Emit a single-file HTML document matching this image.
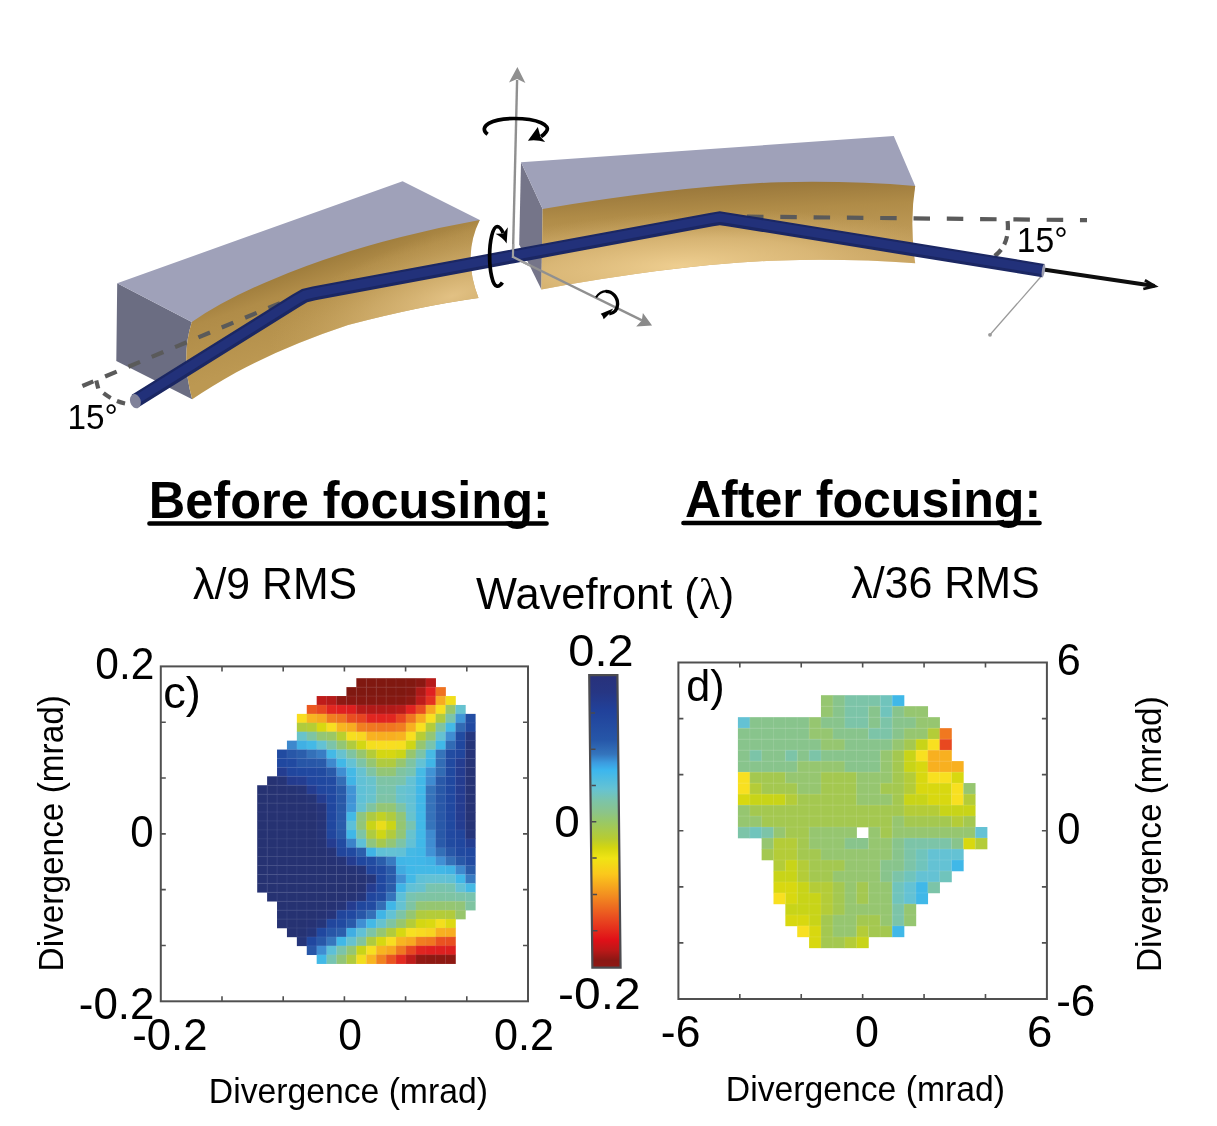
<!DOCTYPE html>
<html lang="en"><head><meta charset="utf-8"><title>Wavefront before and after focusing</title>
<style>
html,body{margin:0;padding:0;background:#fff;}
body{width:1217px;height:1126px;overflow:hidden;font-family:"Liberation Sans",Arial,sans-serif;}
svg{display:block;}
</style></head><body>
<svg width="1217" height="1126" viewBox="0 0 1217 1126">
<defs>
<linearGradient id="gold1" gradientUnits="userSpaceOnUse" x1="300" y1="264" x2="326" y2="340">
<stop offset="0" stop-color="#9c7a3a"/><stop offset="0.3" stop-color="#b08c48"/><stop offset="1" stop-color="#bc9852"/></linearGradient>
<radialGradient id="hl1" gradientUnits="userSpaceOnUse" cx="452" cy="296" r="190" gradientTransform="translate(452 296) rotate(-17) scale(1 0.34) translate(-452 -296)">
<stop offset="0" stop-color="#e2c184" stop-opacity="1"/><stop offset="0.45" stop-color="#d8b676" stop-opacity="0.6"/><stop offset="1" stop-color="#c8a460" stop-opacity="0"/></radialGradient>
<linearGradient id="gold2" gradientUnits="userSpaceOnUse" x1="720" y1="183" x2="724" y2="264">
<stop offset="0" stop-color="#98763a"/><stop offset="0.35" stop-color="#b08c48"/><stop offset="1" stop-color="#c8a462"/></linearGradient>
<radialGradient id="hl2" gradientUnits="userSpaceOnUse" cx="680" cy="266" r="270" gradientTransform="translate(680 266) rotate(-3) scale(1 0.2) translate(-680 -266)">
<stop offset="0" stop-color="#eece90" stop-opacity="1"/><stop offset="0.5" stop-color="#e2c080" stop-opacity="0.7"/><stop offset="1" stop-color="#d0ac68" stop-opacity="0"/></radialGradient>
<linearGradient id="cbar" x1="0" y1="0" x2="0" y2="1">
<stop offset="0" stop-color="#28317a"/>
<stop offset="0.06" stop-color="#263684"/>
<stop offset="0.12" stop-color="#21419a"/>
<stop offset="0.22" stop-color="#2656a8"/>
<stop offset="0.27" stop-color="#3474bc"/>
<stop offset="0.30" stop-color="#3c9ce0"/>
<stop offset="0.325" stop-color="#3cb6ee"/>
<stop offset="0.39" stop-color="#66c3d2"/>
<stop offset="0.43" stop-color="#7cc4a8"/>
<stop offset="0.47" stop-color="#8cc488"/>
<stop offset="0.50" stop-color="#98c868"/>
<stop offset="0.56" stop-color="#b8cc30"/>
<stop offset="0.59" stop-color="#d4d610"/>
<stop offset="0.626" stop-color="#f0e414"/>
<stop offset="0.68" stop-color="#fbc81c"/>
<stop offset="0.75" stop-color="#f39020"/>
<stop offset="0.83" stop-color="#e94c20"/>
<stop offset="0.905" stop-color="#e01018"/>
<stop offset="0.94" stop-color="#bc1818"/>
<stop offset="0.975" stop-color="#8a1814"/>
<stop offset="1" stop-color="#901814"/>
</linearGradient>
</defs>
<rect width="1217" height="1126" fill="#fff"/>
<g id="scene">
<path d="M117.2 283.2 L191.8 322 Q180.5 357 192.2 399.2 L116.3 361 Z" fill="#6b6d82"/>
<path d="M117.2 283.2 L402.6 181.2 L479.8 220 L470 236 L300 290 L195 330 L191.8 322 Z" fill="#9fa1b9"/>
<path d="M191.8 322 Q225 299 273.2 279.2 Q330 255 400 237.3 Q440 227 479.8 220 Q462 256 478.5 298 Q420 306 348 325 Q285 346 236 372.5 Q212 386 192.2 399.2 Q180.5 357 191.8 322 Z" fill="url(#gold1)"/>
<path d="M191.8 322 Q225 299 273.2 279.2 Q330 255 400 237.3 Q440 227 479.8 220 Q462 256 478.5 298 Q420 306 348 325 Q285 346 236 372.5 Q212 386 192.2 399.2 Q180.5 357 191.8 322 Z" fill="url(#hl1)"/>
<path d="M521 162.3 L542.6 209 L541.4 289.4 L519.2 244.5 Z" fill="#757589"/>
<path d="M521 162.3 L893.8 136 L915.2 186 L914 192 L779 190 L545 214 L542.6 209 Z" fill="#9fa1b9"/>
<path d="M542.6 209 Q680 186 779 182.2 Q850 180.5 915.2 186 Q909.5 222 915.2 263.2 Q850 258.5 779.5 260.4 Q680 264 541.4 289.4 Z" fill="url(#gold2)"/>
<path d="M542.6 209 Q680 186 779 182.2 Q850 180.5 915.2 186 Q909.5 222 915.2 263.2 Q850 258.5 779.5 260.4 Q680 264 541.4 289.4 Z" fill="url(#hl2)"/>
<g stroke="#5a5a5a" stroke-width="4.2" fill="none">
<path d="M280 303.1 L82.4 386" stroke-dasharray="12.6 12.7"/>
<path d="M96.2 380.5 L98.2 388.5" />
<path d="M103.5 393.2 Q115 402 128 404" stroke-dasharray="8.5 7"/>
<path d="M747 216.6 L1087 220.2" stroke-dasharray="16.5 16.8"/>
<path d="M1007.6 221 Q1010 245 994 256.5" stroke-dasharray="9 6"/>
</g>
<g stroke="#909090" stroke-width="2.4" fill="none"><path d="M512.9 257 L517.1 80"/><path d="M512.9 257 L642 320.4"/></g>
<path d="M517.4 67 L525.4 83 L517.1 79 L509 82.6 Z" fill="#909090"/>
<path d="M652.1 325.5 L636.2 326.6 L641.8 320.6 L642.9 312.9 Z" fill="#8a8a8a"/>
<path d="M1041.5 276 L990 334.8" stroke="#9a9a9a" stroke-width="1.3" fill="none"/><circle cx="990" cy="334.8" r="1.9" fill="#9a9a9a"/>
<path d="M139.26 406.82 L299.67 306.68 L307.27 302.32 L315.45 300.30 L514.27 263.13 L713.15 226.15 L719.83 225.23 L726.96 226.17 L1042.31 277.31 L1044.49 263.89 L729.04 212.63 L719.77 211.17 L710.85 212.65 L511.73 249.47 L312.55 286.50 L301.93 288.88 L292.33 294.52 L131.74 394.78 Z" fill="#1b2763"/>
<path d="M137.83 404.03 L298.27 303.87 L306.26 299.27 L314.90 297.18 L513.79 260.04 L712.71 223.09 L719.82 222.06 L727.35 223.10 L1042.72 274.26 L1044.08 265.94 L728.65 214.70 L719.78 213.34 L711.29 214.71 L512.21 251.56 L313.10 288.62 L302.94 290.93 L293.73 296.33 L133.17 396.57 Z" fill="#22317a"/>
<ellipse cx="135.4" cy="401.2" rx="5.3" ry="7.3" fill="#80829a" transform="rotate(-18 135.4 401.2)"/>
<ellipse cx="1043.4" cy="270.6" rx="1.5" ry="6.9" fill="#9a9cae" transform="rotate(9 1043.4 270.6)"/>
<g stroke="#a0a0a0" stroke-width="2.2" fill="none"><path d="M512.9 258 L513.2 244"/><path d="M512.2 256.6 L530 265.4"/></g>
<path d="M1045 269.7 L1154.6 285.95" stroke="#0e0e0e" stroke-width="4.1" fill="none"/>
<path d="M1144.9 280.2 L1155 286.1 L1143.3 289" stroke="#0e0e0e" stroke-width="2.8" stroke-linejoin="miter" stroke-miterlimit="6" fill="none"/>
<g stroke="#000" stroke-width="3.7" fill="none">
<path d="M487.6 134.3 C477.5 126.5 492 118.4 514 118.5 C538 118.6 551.5 125.2 546.2 131.6 C545 133.4 543.4 135 541 136.6"/>
<path d="M502.4 282.6 C500.5 285.6 498.6 286.4 497 286.2 C492.6 285.6 489.6 271 489.6 256 C489.6 241 492.8 226.6 497.2 226.5 C499.4 226.5 501.4 229 503.2 233"/>
</g>
<path d="M596 297.4 C599 293 602.6 291.2 606 291.1" stroke="#000" stroke-width="2.1" fill="none"/>
<path d="M605.6 291.4 C612.4 291.2 617.8 297.4 617.6 304.2 C617.4 309.6 614 313 609.2 313.9" stroke="#000" stroke-width="3.4" fill="none"/>
<path d="M527.9 140.7 L537.8 127.1 L540.6 137 L545.2 141.9 Q536 139.4 527.9 140.7 Z" fill="#000"/>
<path d="M506.6 243.4 L507.8 227.3 L503.2 233.6 L495.5 233.8 Q502.4 237.4 506.6 243.4 Z" fill="#000"/>
<path d="M600.7 313.7 L613.3 308.6 L609.6 313.6 L603.7 319.2 Q603.2 316 600.7 313.7 Z" fill="#000"/>
</g>
<g font-family="'Liberation Sans', Arial, sans-serif" fill="#000">
<text transform="translate(67.49 429.00) scale(0.9642 1.04)" font-size="34.5">15°</text>
<text transform="translate(1016.76 251.70) scale(0.9768 1.04)" font-size="34.5">15°</text>
<text transform="translate(148.84 517.80) scale(1.0158 1.04)" font-size="49.7" font-weight="bold">Before focusing:</text>
<text transform="translate(684.89 517.20) scale(1.0084 1.04)" font-size="49.7" font-weight="bold">After focusing:</text>
<text transform="translate(193.00 598.60) scale(1.0025 1.04)" font-size="42.7">λ/9 RMS</text>
<text transform="translate(851.19 598.40) scale(1.0109 1.04)" font-size="42.5">λ/36 RMS</text>
<text transform="translate(476.08 609.30) scale(1.0336 1.04)" font-size="42">Wavefront (<tspan font-family="'Liberation Serif', 'DejaVu Serif', serif">λ</tspan>)</text>
<path d="M149.4 523.5 H546.6 M683.4 522.9 H1039.6" stroke="#000" stroke-width="4.5" stroke-linecap="round" fill="none"/>
</g>
<g id="plotc">
<rect x="356.34" y="678.20" width="10.21" height="9.22" fill="#801810"/>
<rect x="366.25" y="678.20" width="10.21" height="9.22" fill="#801810"/>
<rect x="376.17" y="678.20" width="10.21" height="9.22" fill="#801810"/>
<rect x="386.08" y="678.20" width="10.21" height="9.22" fill="#801810"/>
<rect x="396.00" y="678.20" width="10.21" height="9.22" fill="#801810"/>
<rect x="405.91" y="678.20" width="10.21" height="9.22" fill="#821810"/>
<rect x="415.82" y="678.20" width="10.21" height="9.22" fill="#8a1812"/>
<rect x="425.74" y="678.20" width="10.21" height="9.22" fill="#b71b19"/>
<rect x="346.43" y="687.12" width="10.21" height="9.22" fill="#801810"/>
<rect x="356.34" y="687.12" width="10.21" height="9.22" fill="#801810"/>
<rect x="366.25" y="687.12" width="10.21" height="9.22" fill="#801810"/>
<rect x="376.17" y="687.12" width="10.21" height="9.22" fill="#801810"/>
<rect x="386.08" y="687.12" width="10.21" height="9.22" fill="#801810"/>
<rect x="396.00" y="687.12" width="10.21" height="9.22" fill="#801810"/>
<rect x="405.91" y="687.12" width="10.21" height="9.22" fill="#841811"/>
<rect x="415.82" y="687.12" width="10.21" height="9.22" fill="#ad1a17"/>
<rect x="425.74" y="687.12" width="10.21" height="9.22" fill="#e02120"/>
<rect x="435.65" y="687.12" width="10.21" height="9.22" fill="#ef7220"/>
<rect x="316.68" y="696.04" width="10.21" height="9.22" fill="#bf1c1a"/>
<rect x="326.60" y="696.04" width="10.21" height="9.22" fill="#b51b19"/>
<rect x="336.51" y="696.04" width="10.21" height="9.22" fill="#8f1913"/>
<rect x="346.43" y="696.04" width="10.21" height="9.22" fill="#891812"/>
<rect x="356.34" y="696.04" width="10.21" height="9.22" fill="#861811"/>
<rect x="366.25" y="696.04" width="10.21" height="9.22" fill="#851811"/>
<rect x="376.17" y="696.04" width="10.21" height="9.22" fill="#851811"/>
<rect x="386.08" y="696.04" width="10.21" height="9.22" fill="#851811"/>
<rect x="396.00" y="696.04" width="10.21" height="9.22" fill="#861811"/>
<rect x="405.91" y="696.04" width="10.21" height="9.22" fill="#8e1912"/>
<rect x="415.82" y="696.04" width="10.21" height="9.22" fill="#bd1c1a"/>
<rect x="425.74" y="696.04" width="10.21" height="9.22" fill="#e43220"/>
<rect x="435.65" y="696.04" width="10.21" height="9.22" fill="#f7ab20"/>
<rect x="445.57" y="696.04" width="10.21" height="9.22" fill="#f1de1c"/>
<rect x="306.77" y="704.96" width="10.21" height="9.22" fill="#eb5820"/>
<rect x="316.68" y="704.96" width="10.21" height="9.22" fill="#e84820"/>
<rect x="326.60" y="704.96" width="10.21" height="9.22" fill="#e12720"/>
<rect x="336.51" y="704.96" width="10.21" height="9.22" fill="#e02120"/>
<rect x="346.43" y="704.96" width="10.21" height="9.22" fill="#dc1f1f"/>
<rect x="356.34" y="704.96" width="10.21" height="9.22" fill="#b71b19"/>
<rect x="366.25" y="704.96" width="10.21" height="9.22" fill="#b21a18"/>
<rect x="376.17" y="704.96" width="10.21" height="9.22" fill="#b01a18"/>
<rect x="386.08" y="704.96" width="10.21" height="9.22" fill="#b21a18"/>
<rect x="396.00" y="704.96" width="10.21" height="9.22" fill="#b91b19"/>
<rect x="405.91" y="704.96" width="10.21" height="9.22" fill="#e12320"/>
<rect x="415.82" y="704.96" width="10.21" height="9.22" fill="#e94d20"/>
<rect x="425.74" y="704.96" width="10.21" height="9.22" fill="#f7a820"/>
<rect x="435.65" y="704.96" width="10.21" height="9.22" fill="#f7e01f"/>
<rect x="445.57" y="704.96" width="10.21" height="9.22" fill="#98c66a"/>
<rect x="455.48" y="704.96" width="10.21" height="9.22" fill="#66c2d0"/>
<rect x="296.86" y="713.88" width="10.21" height="9.22" fill="#f8dd20"/>
<rect x="306.77" y="713.88" width="10.21" height="9.22" fill="#f8b520"/>
<rect x="316.68" y="713.88" width="10.21" height="9.22" fill="#f7aa20"/>
<rect x="326.60" y="713.88" width="10.21" height="9.22" fill="#f17e20"/>
<rect x="336.51" y="713.88" width="10.21" height="9.22" fill="#ef7420"/>
<rect x="346.43" y="713.88" width="10.21" height="9.22" fill="#e94e20"/>
<rect x="356.34" y="713.88" width="10.21" height="9.22" fill="#e74420"/>
<rect x="366.25" y="713.88" width="10.21" height="9.22" fill="#e12620"/>
<rect x="376.17" y="713.88" width="10.21" height="9.22" fill="#e12420"/>
<rect x="386.08" y="713.88" width="10.21" height="9.22" fill="#e12620"/>
<rect x="396.00" y="713.88" width="10.21" height="9.22" fill="#e84620"/>
<rect x="405.91" y="713.88" width="10.21" height="9.22" fill="#f07620"/>
<rect x="415.82" y="713.88" width="10.21" height="9.22" fill="#f8ac20"/>
<rect x="425.74" y="713.88" width="10.21" height="9.22" fill="#f8e020"/>
<rect x="435.65" y="713.88" width="10.21" height="9.22" fill="#afcb40"/>
<rect x="445.57" y="713.88" width="10.21" height="9.22" fill="#7bc4aa"/>
<rect x="455.48" y="713.88" width="10.21" height="9.22" fill="#4096d7"/>
<rect x="465.39" y="713.88" width="10.21" height="9.22" fill="#234ea3"/>
<rect x="296.86" y="722.80" width="10.21" height="9.22" fill="#b0cb3d"/>
<rect x="306.77" y="722.80" width="10.21" height="9.22" fill="#b6cd34"/>
<rect x="316.68" y="722.80" width="10.21" height="9.22" fill="#d9d810"/>
<rect x="326.60" y="722.80" width="10.21" height="9.22" fill="#f8de20"/>
<rect x="336.51" y="722.80" width="10.21" height="9.22" fill="#f8b620"/>
<rect x="346.43" y="722.80" width="10.21" height="9.22" fill="#f7ab20"/>
<rect x="356.34" y="722.80" width="10.21" height="9.22" fill="#f17f20"/>
<rect x="366.25" y="722.80" width="10.21" height="9.22" fill="#f07820"/>
<rect x="376.17" y="722.80" width="10.21" height="9.22" fill="#ef7520"/>
<rect x="386.08" y="722.80" width="10.21" height="9.22" fill="#f07620"/>
<rect x="396.00" y="722.80" width="10.21" height="9.22" fill="#f17e20"/>
<rect x="405.91" y="722.80" width="10.21" height="9.22" fill="#f8af20"/>
<rect x="415.82" y="722.80" width="10.21" height="9.22" fill="#f8e020"/>
<rect x="425.74" y="722.80" width="10.21" height="9.22" fill="#b3cc3a"/>
<rect x="435.65" y="722.80" width="10.21" height="9.22" fill="#7fc4a1"/>
<rect x="445.57" y="722.80" width="10.21" height="9.22" fill="#44b9e6"/>
<rect x="455.48" y="722.80" width="10.21" height="9.22" fill="#316ab4"/>
<rect x="465.39" y="722.80" width="10.21" height="9.22" fill="#2149a1"/>
<rect x="296.86" y="731.72" width="10.21" height="9.22" fill="#69c3ca"/>
<rect x="306.77" y="731.72" width="10.21" height="9.22" fill="#7ec4a3"/>
<rect x="316.68" y="731.72" width="10.21" height="9.22" fill="#94c675"/>
<rect x="326.60" y="731.72" width="10.21" height="9.22" fill="#9bc765"/>
<rect x="336.51" y="731.72" width="10.21" height="9.22" fill="#bacf2e"/>
<rect x="346.43" y="731.72" width="10.21" height="9.22" fill="#f6df1f"/>
<rect x="356.34" y="731.72" width="10.21" height="9.22" fill="#f8d720"/>
<rect x="366.25" y="731.72" width="10.21" height="9.22" fill="#f8b220"/>
<rect x="376.17" y="731.72" width="10.21" height="9.22" fill="#f8af20"/>
<rect x="386.08" y="731.72" width="10.21" height="9.22" fill="#f8af20"/>
<rect x="396.00" y="731.72" width="10.21" height="9.22" fill="#f8b420"/>
<rect x="405.91" y="731.72" width="10.21" height="9.22" fill="#f8df20"/>
<rect x="415.82" y="731.72" width="10.21" height="9.22" fill="#b7cd34"/>
<rect x="425.74" y="731.72" width="10.21" height="9.22" fill="#93c675"/>
<rect x="435.65" y="731.72" width="10.21" height="9.22" fill="#65c2d2"/>
<rect x="445.57" y="731.72" width="10.21" height="9.22" fill="#3f8dd2"/>
<rect x="455.48" y="731.72" width="10.21" height="9.22" fill="#214ba1"/>
<rect x="465.39" y="731.72" width="10.21" height="9.22" fill="#253780"/>
<rect x="286.94" y="740.64" width="10.21" height="9.22" fill="#3d88cd"/>
<rect x="296.86" y="740.64" width="10.21" height="9.22" fill="#40b0e4"/>
<rect x="306.77" y="740.64" width="10.21" height="9.22" fill="#44b9e6"/>
<rect x="316.68" y="740.64" width="10.21" height="9.22" fill="#63c2d4"/>
<rect x="326.60" y="740.64" width="10.21" height="9.22" fill="#7cc4a9"/>
<rect x="336.51" y="740.64" width="10.21" height="9.22" fill="#93c675"/>
<rect x="346.43" y="740.64" width="10.21" height="9.22" fill="#b0cb3f"/>
<rect x="356.34" y="740.64" width="10.21" height="9.22" fill="#d3d713"/>
<rect x="366.25" y="740.64" width="10.21" height="9.22" fill="#f4df1e"/>
<rect x="376.17" y="740.64" width="10.21" height="9.22" fill="#f8de20"/>
<rect x="386.08" y="740.64" width="10.21" height="9.22" fill="#f8de20"/>
<rect x="396.00" y="740.64" width="10.21" height="9.22" fill="#f6df1f"/>
<rect x="405.91" y="740.64" width="10.21" height="9.22" fill="#cfd615"/>
<rect x="415.82" y="740.64" width="10.21" height="9.22" fill="#96c670"/>
<rect x="425.74" y="740.64" width="10.21" height="9.22" fill="#79c4ad"/>
<rect x="435.65" y="740.64" width="10.21" height="9.22" fill="#40b8e8"/>
<rect x="445.57" y="740.64" width="10.21" height="9.22" fill="#316bb5"/>
<rect x="455.48" y="740.64" width="10.21" height="9.22" fill="#20479f"/>
<rect x="465.39" y="740.64" width="10.21" height="9.22" fill="#25357a"/>
<rect x="277.03" y="749.56" width="10.21" height="9.22" fill="#214ba1"/>
<rect x="286.94" y="749.56" width="10.21" height="9.22" fill="#2857a8"/>
<rect x="296.86" y="749.56" width="10.21" height="9.22" fill="#2b5eac"/>
<rect x="306.77" y="749.56" width="10.21" height="9.22" fill="#3471b9"/>
<rect x="316.68" y="749.56" width="10.21" height="9.22" fill="#397dc4"/>
<rect x="326.60" y="749.56" width="10.21" height="9.22" fill="#44b9e6"/>
<rect x="336.51" y="749.56" width="10.21" height="9.22" fill="#67c2cf"/>
<rect x="346.43" y="749.56" width="10.21" height="9.22" fill="#7fc4a1"/>
<rect x="356.34" y="749.56" width="10.21" height="9.22" fill="#97c66e"/>
<rect x="366.25" y="749.56" width="10.21" height="9.22" fill="#b4cc38"/>
<rect x="376.17" y="749.56" width="10.21" height="9.22" fill="#d4d712"/>
<rect x="386.08" y="749.56" width="10.21" height="9.22" fill="#d6d711"/>
<rect x="396.00" y="749.56" width="10.21" height="9.22" fill="#cbd516"/>
<rect x="405.91" y="749.56" width="10.21" height="9.22" fill="#97c66d"/>
<rect x="415.82" y="749.56" width="10.21" height="9.22" fill="#7cc4a7"/>
<rect x="425.74" y="749.56" width="10.21" height="9.22" fill="#47bae4"/>
<rect x="435.65" y="749.56" width="10.21" height="9.22" fill="#3574bb"/>
<rect x="445.57" y="749.56" width="10.21" height="9.22" fill="#224ca2"/>
<rect x="455.48" y="749.56" width="10.21" height="9.22" fill="#21469d"/>
<rect x="465.39" y="749.56" width="10.21" height="9.22" fill="#263479"/>
<rect x="277.03" y="758.48" width="10.21" height="9.22" fill="#2048a0"/>
<rect x="286.94" y="758.48" width="10.21" height="9.22" fill="#214aa1"/>
<rect x="296.86" y="758.48" width="10.21" height="9.22" fill="#2756a7"/>
<rect x="306.77" y="758.48" width="10.21" height="9.22" fill="#2857a8"/>
<rect x="316.68" y="758.48" width="10.21" height="9.22" fill="#295aaa"/>
<rect x="326.60" y="758.48" width="10.21" height="9.22" fill="#3e89ce"/>
<rect x="336.51" y="758.48" width="10.21" height="9.22" fill="#41b8e7"/>
<rect x="346.43" y="758.48" width="10.21" height="9.22" fill="#64c2d4"/>
<rect x="356.34" y="758.48" width="10.21" height="9.22" fill="#7dc4a6"/>
<rect x="366.25" y="758.48" width="10.21" height="9.22" fill="#95c672"/>
<rect x="376.17" y="758.48" width="10.21" height="9.22" fill="#b0cb3f"/>
<rect x="386.08" y="758.48" width="10.21" height="9.22" fill="#b0cb3e"/>
<rect x="396.00" y="758.48" width="10.21" height="9.22" fill="#97c66f"/>
<rect x="405.91" y="758.48" width="10.21" height="9.22" fill="#7ec4a3"/>
<rect x="415.82" y="758.48" width="10.21" height="9.22" fill="#64c2d4"/>
<rect x="425.74" y="758.48" width="10.21" height="9.22" fill="#40b5e6"/>
<rect x="435.65" y="758.48" width="10.21" height="9.22" fill="#326db6"/>
<rect x="445.57" y="758.48" width="10.21" height="9.22" fill="#214aa1"/>
<rect x="455.48" y="758.48" width="10.21" height="9.22" fill="#243d91"/>
<rect x="465.39" y="758.48" width="10.21" height="9.22" fill="#263477"/>
<rect x="277.03" y="767.40" width="10.21" height="9.22" fill="#243d91"/>
<rect x="286.94" y="767.40" width="10.21" height="9.22" fill="#21469e"/>
<rect x="296.86" y="767.40" width="10.21" height="9.22" fill="#2048a0"/>
<rect x="306.77" y="767.40" width="10.21" height="9.22" fill="#2149a1"/>
<rect x="316.68" y="767.40" width="10.21" height="9.22" fill="#214ba1"/>
<rect x="326.60" y="767.40" width="10.21" height="9.22" fill="#2959a9"/>
<rect x="336.51" y="767.40" width="10.21" height="9.22" fill="#3f8ed2"/>
<rect x="346.43" y="767.40" width="10.21" height="9.22" fill="#44b9e6"/>
<rect x="356.34" y="767.40" width="10.21" height="9.22" fill="#66c2d1"/>
<rect x="366.25" y="767.40" width="10.21" height="9.22" fill="#7ec4a4"/>
<rect x="376.17" y="767.40" width="10.21" height="9.22" fill="#93c676"/>
<rect x="386.08" y="767.40" width="10.21" height="9.22" fill="#93c675"/>
<rect x="396.00" y="767.40" width="10.21" height="9.22" fill="#7fc4a1"/>
<rect x="405.91" y="767.40" width="10.21" height="9.22" fill="#77c4b1"/>
<rect x="415.82" y="767.40" width="10.21" height="9.22" fill="#46bae5"/>
<rect x="425.74" y="767.40" width="10.21" height="9.22" fill="#4093d5"/>
<rect x="435.65" y="767.40" width="10.21" height="9.22" fill="#316bb4"/>
<rect x="445.57" y="767.40" width="10.21" height="9.22" fill="#2049a0"/>
<rect x="455.48" y="767.40" width="10.21" height="9.22" fill="#243c90"/>
<rect x="465.39" y="767.40" width="10.21" height="9.22" fill="#263376"/>
<rect x="267.11" y="776.32" width="10.21" height="9.22" fill="#263273"/>
<rect x="277.03" y="776.32" width="10.21" height="9.22" fill="#263477"/>
<rect x="286.94" y="776.32" width="10.21" height="9.22" fill="#243b8e"/>
<rect x="296.86" y="776.32" width="10.21" height="9.22" fill="#243d91"/>
<rect x="306.77" y="776.32" width="10.21" height="9.22" fill="#21469e"/>
<rect x="316.68" y="776.32" width="10.21" height="9.22" fill="#2048a0"/>
<rect x="326.60" y="776.32" width="10.21" height="9.22" fill="#224ba2"/>
<rect x="336.51" y="776.32" width="10.21" height="9.22" fill="#336db6"/>
<rect x="346.43" y="776.32" width="10.21" height="9.22" fill="#40b4e6"/>
<rect x="356.34" y="776.32" width="10.21" height="9.22" fill="#61c1d6"/>
<rect x="366.25" y="776.32" width="10.21" height="9.22" fill="#68c3cc"/>
<rect x="376.17" y="776.32" width="10.21" height="9.22" fill="#7dc4a6"/>
<rect x="386.08" y="776.32" width="10.21" height="9.22" fill="#7dc4a5"/>
<rect x="396.00" y="776.32" width="10.21" height="9.22" fill="#7ac4ac"/>
<rect x="405.91" y="776.32" width="10.21" height="9.22" fill="#64c2d4"/>
<rect x="415.82" y="776.32" width="10.21" height="9.22" fill="#42b8e7"/>
<rect x="425.74" y="776.32" width="10.21" height="9.22" fill="#3e8bd0"/>
<rect x="435.65" y="776.32" width="10.21" height="9.22" fill="#2959a9"/>
<rect x="445.57" y="776.32" width="10.21" height="9.22" fill="#2048a0"/>
<rect x="455.48" y="776.32" width="10.21" height="9.22" fill="#243c90"/>
<rect x="465.39" y="776.32" width="10.21" height="9.22" fill="#263376"/>
<rect x="257.20" y="785.24" width="10.21" height="9.22" fill="#263272"/>
<rect x="267.11" y="785.24" width="10.21" height="9.22" fill="#263272"/>
<rect x="277.03" y="785.24" width="10.21" height="9.22" fill="#263273"/>
<rect x="286.94" y="785.24" width="10.21" height="9.22" fill="#263374"/>
<rect x="296.86" y="785.24" width="10.21" height="9.22" fill="#263477"/>
<rect x="306.77" y="785.24" width="10.21" height="9.22" fill="#243c90"/>
<rect x="316.68" y="785.24" width="10.21" height="9.22" fill="#21469e"/>
<rect x="326.60" y="785.24" width="10.21" height="9.22" fill="#214aa1"/>
<rect x="336.51" y="785.24" width="10.21" height="9.22" fill="#295aa9"/>
<rect x="346.43" y="785.24" width="10.21" height="9.22" fill="#4095d6"/>
<rect x="356.34" y="785.24" width="10.21" height="9.22" fill="#5fc1d7"/>
<rect x="366.25" y="785.24" width="10.21" height="9.22" fill="#66c2d0"/>
<rect x="376.17" y="785.24" width="10.21" height="9.22" fill="#79c4ac"/>
<rect x="386.08" y="785.24" width="10.21" height="9.22" fill="#7ac4ab"/>
<rect x="396.00" y="785.24" width="10.21" height="9.22" fill="#67c3ce"/>
<rect x="405.91" y="785.24" width="10.21" height="9.22" fill="#61c1d6"/>
<rect x="415.82" y="785.24" width="10.21" height="9.22" fill="#40b8e8"/>
<rect x="425.74" y="785.24" width="10.21" height="9.22" fill="#3574bb"/>
<rect x="435.65" y="785.24" width="10.21" height="9.22" fill="#2858a8"/>
<rect x="445.57" y="785.24" width="10.21" height="9.22" fill="#2048a0"/>
<rect x="455.48" y="785.24" width="10.21" height="9.22" fill="#243c90"/>
<rect x="465.39" y="785.24" width="10.21" height="9.22" fill="#263376"/>
<rect x="257.20" y="794.16" width="10.21" height="9.22" fill="#263272"/>
<rect x="267.11" y="794.16" width="10.21" height="9.22" fill="#263272"/>
<rect x="277.03" y="794.16" width="10.21" height="9.22" fill="#263272"/>
<rect x="286.94" y="794.16" width="10.21" height="9.22" fill="#263272"/>
<rect x="296.86" y="794.16" width="10.21" height="9.22" fill="#263273"/>
<rect x="306.77" y="794.16" width="10.21" height="9.22" fill="#263476"/>
<rect x="316.68" y="794.16" width="10.21" height="9.22" fill="#243c90"/>
<rect x="326.60" y="794.16" width="10.21" height="9.22" fill="#2048a0"/>
<rect x="336.51" y="794.16" width="10.21" height="9.22" fill="#2858a8"/>
<rect x="346.43" y="794.16" width="10.21" height="9.22" fill="#4092d5"/>
<rect x="356.34" y="794.16" width="10.21" height="9.22" fill="#5fc1d7"/>
<rect x="366.25" y="794.16" width="10.21" height="9.22" fill="#68c3cc"/>
<rect x="376.17" y="794.16" width="10.21" height="9.22" fill="#7dc4a6"/>
<rect x="386.08" y="794.16" width="10.21" height="9.22" fill="#7dc4a6"/>
<rect x="396.00" y="794.16" width="10.21" height="9.22" fill="#68c3cc"/>
<rect x="405.91" y="794.16" width="10.21" height="9.22" fill="#61c1d6"/>
<rect x="415.82" y="794.16" width="10.21" height="9.22" fill="#40b7e7"/>
<rect x="425.74" y="794.16" width="10.21" height="9.22" fill="#3572ba"/>
<rect x="435.65" y="794.16" width="10.21" height="9.22" fill="#2857a8"/>
<rect x="445.57" y="794.16" width="10.21" height="9.22" fill="#2048a0"/>
<rect x="455.48" y="794.16" width="10.21" height="9.22" fill="#243c90"/>
<rect x="465.39" y="794.16" width="10.21" height="9.22" fill="#263376"/>
<rect x="257.20" y="803.08" width="10.21" height="9.22" fill="#263272"/>
<rect x="267.11" y="803.08" width="10.21" height="9.22" fill="#263272"/>
<rect x="277.03" y="803.08" width="10.21" height="9.22" fill="#263272"/>
<rect x="286.94" y="803.08" width="10.21" height="9.22" fill="#263272"/>
<rect x="296.86" y="803.08" width="10.21" height="9.22" fill="#263272"/>
<rect x="306.77" y="803.08" width="10.21" height="9.22" fill="#263273"/>
<rect x="316.68" y="803.08" width="10.21" height="9.22" fill="#26347a"/>
<rect x="326.60" y="803.08" width="10.21" height="9.22" fill="#20479f"/>
<rect x="336.51" y="803.08" width="10.21" height="9.22" fill="#2859a8"/>
<rect x="346.43" y="803.08" width="10.21" height="9.22" fill="#4097d8"/>
<rect x="356.34" y="803.08" width="10.21" height="9.22" fill="#66c2d0"/>
<rect x="366.25" y="803.08" width="10.21" height="9.22" fill="#7fc4a0"/>
<rect x="376.17" y="803.08" width="10.21" height="9.22" fill="#94c674"/>
<rect x="386.08" y="803.08" width="10.21" height="9.22" fill="#93c675"/>
<rect x="396.00" y="803.08" width="10.21" height="9.22" fill="#7dc4a5"/>
<rect x="405.91" y="803.08" width="10.21" height="9.22" fill="#64c2d4"/>
<rect x="415.82" y="803.08" width="10.21" height="9.22" fill="#40b7e7"/>
<rect x="425.74" y="803.08" width="10.21" height="9.22" fill="#3572ba"/>
<rect x="435.65" y="803.08" width="10.21" height="9.22" fill="#2857a8"/>
<rect x="445.57" y="803.08" width="10.21" height="9.22" fill="#2048a0"/>
<rect x="455.48" y="803.08" width="10.21" height="9.22" fill="#243c90"/>
<rect x="465.39" y="803.08" width="10.21" height="9.22" fill="#263376"/>
<rect x="257.20" y="812.00" width="10.21" height="9.22" fill="#263272"/>
<rect x="267.11" y="812.00" width="10.21" height="9.22" fill="#263272"/>
<rect x="277.03" y="812.00" width="10.21" height="9.22" fill="#263272"/>
<rect x="286.94" y="812.00" width="10.21" height="9.22" fill="#263272"/>
<rect x="296.86" y="812.00" width="10.21" height="9.22" fill="#263272"/>
<rect x="306.77" y="812.00" width="10.21" height="9.22" fill="#263272"/>
<rect x="316.68" y="812.00" width="10.21" height="9.22" fill="#263478"/>
<rect x="326.60" y="812.00" width="10.21" height="9.22" fill="#20479f"/>
<rect x="336.51" y="812.00" width="10.21" height="9.22" fill="#295aaa"/>
<rect x="346.43" y="812.00" width="10.21" height="9.22" fill="#43b9e6"/>
<rect x="356.34" y="812.00" width="10.21" height="9.22" fill="#8ec57f"/>
<rect x="366.25" y="812.00" width="10.21" height="9.22" fill="#adca42"/>
<rect x="376.17" y="812.00" width="10.21" height="9.22" fill="#c1d124"/>
<rect x="386.08" y="812.00" width="10.21" height="9.22" fill="#b0cb3e"/>
<rect x="396.00" y="812.00" width="10.21" height="9.22" fill="#92c677"/>
<rect x="405.91" y="812.00" width="10.21" height="9.22" fill="#67c3ce"/>
<rect x="415.82" y="812.00" width="10.21" height="9.22" fill="#40b8e8"/>
<rect x="425.74" y="812.00" width="10.21" height="9.22" fill="#3572ba"/>
<rect x="435.65" y="812.00" width="10.21" height="9.22" fill="#2857a8"/>
<rect x="445.57" y="812.00" width="10.21" height="9.22" fill="#2048a0"/>
<rect x="455.48" y="812.00" width="10.21" height="9.22" fill="#243c90"/>
<rect x="465.39" y="812.00" width="10.21" height="9.22" fill="#263376"/>
<rect x="257.20" y="820.92" width="10.21" height="9.22" fill="#263272"/>
<rect x="267.11" y="820.92" width="10.21" height="9.22" fill="#263272"/>
<rect x="277.03" y="820.92" width="10.21" height="9.22" fill="#263272"/>
<rect x="286.94" y="820.92" width="10.21" height="9.22" fill="#263272"/>
<rect x="296.86" y="820.92" width="10.21" height="9.22" fill="#263272"/>
<rect x="306.77" y="820.92" width="10.21" height="9.22" fill="#263272"/>
<rect x="316.68" y="820.92" width="10.21" height="9.22" fill="#263478"/>
<rect x="326.60" y="820.92" width="10.21" height="9.22" fill="#20479f"/>
<rect x="336.51" y="820.92" width="10.21" height="9.22" fill="#2a5caa"/>
<rect x="346.43" y="820.92" width="10.21" height="9.22" fill="#5cc0d8"/>
<rect x="356.34" y="820.92" width="10.21" height="9.22" fill="#92c578"/>
<rect x="366.25" y="820.92" width="10.21" height="9.22" fill="#c9d417"/>
<rect x="376.17" y="820.92" width="10.21" height="9.22" fill="#eadd19"/>
<rect x="386.08" y="820.92" width="10.21" height="9.22" fill="#cbd516"/>
<rect x="396.00" y="820.92" width="10.21" height="9.22" fill="#95c671"/>
<rect x="405.91" y="820.92" width="10.21" height="9.22" fill="#78c4b0"/>
<rect x="415.82" y="820.92" width="10.21" height="9.22" fill="#41b8e7"/>
<rect x="425.74" y="820.92" width="10.21" height="9.22" fill="#3574bb"/>
<rect x="435.65" y="820.92" width="10.21" height="9.22" fill="#2858a8"/>
<rect x="445.57" y="820.92" width="10.21" height="9.22" fill="#2049a0"/>
<rect x="455.48" y="820.92" width="10.21" height="9.22" fill="#243d91"/>
<rect x="465.39" y="820.92" width="10.21" height="9.22" fill="#263477"/>
<rect x="257.20" y="829.84" width="10.21" height="9.22" fill="#263272"/>
<rect x="267.11" y="829.84" width="10.21" height="9.22" fill="#263272"/>
<rect x="277.03" y="829.84" width="10.21" height="9.22" fill="#263272"/>
<rect x="286.94" y="829.84" width="10.21" height="9.22" fill="#263272"/>
<rect x="296.86" y="829.84" width="10.21" height="9.22" fill="#263272"/>
<rect x="306.77" y="829.84" width="10.21" height="9.22" fill="#263272"/>
<rect x="316.68" y="829.84" width="10.21" height="9.22" fill="#263477"/>
<rect x="326.60" y="829.84" width="10.21" height="9.22" fill="#21469d"/>
<rect x="336.51" y="829.84" width="10.21" height="9.22" fill="#2858a8"/>
<rect x="346.43" y="829.84" width="10.21" height="9.22" fill="#40b7e7"/>
<rect x="356.34" y="829.84" width="10.21" height="9.22" fill="#7dc4a5"/>
<rect x="366.25" y="829.84" width="10.21" height="9.22" fill="#aecb40"/>
<rect x="376.17" y="829.84" width="10.21" height="9.22" fill="#ced615"/>
<rect x="386.08" y="829.84" width="10.21" height="9.22" fill="#b1cb3c"/>
<rect x="396.00" y="829.84" width="10.21" height="9.22" fill="#92c677"/>
<rect x="405.91" y="829.84" width="10.21" height="9.22" fill="#67c3ce"/>
<rect x="415.82" y="829.84" width="10.21" height="9.22" fill="#42b8e7"/>
<rect x="425.74" y="829.84" width="10.21" height="9.22" fill="#3e8acf"/>
<rect x="435.65" y="829.84" width="10.21" height="9.22" fill="#2858a8"/>
<rect x="445.57" y="829.84" width="10.21" height="9.22" fill="#2149a1"/>
<rect x="455.48" y="829.84" width="10.21" height="9.22" fill="#21459c"/>
<rect x="465.39" y="829.84" width="10.21" height="9.22" fill="#25357b"/>
<rect x="257.20" y="838.76" width="10.21" height="9.22" fill="#263272"/>
<rect x="267.11" y="838.76" width="10.21" height="9.22" fill="#263272"/>
<rect x="277.03" y="838.76" width="10.21" height="9.22" fill="#263272"/>
<rect x="286.94" y="838.76" width="10.21" height="9.22" fill="#263272"/>
<rect x="296.86" y="838.76" width="10.21" height="9.22" fill="#263272"/>
<rect x="306.77" y="838.76" width="10.21" height="9.22" fill="#263272"/>
<rect x="316.68" y="838.76" width="10.21" height="9.22" fill="#263375"/>
<rect x="326.60" y="838.76" width="10.21" height="9.22" fill="#243c90"/>
<rect x="336.51" y="838.76" width="10.21" height="9.22" fill="#214aa1"/>
<rect x="346.43" y="838.76" width="10.21" height="9.22" fill="#3b83c9"/>
<rect x="356.34" y="838.76" width="10.21" height="9.22" fill="#5ec0d7"/>
<rect x="366.25" y="838.76" width="10.21" height="9.22" fill="#8fc57e"/>
<rect x="376.17" y="838.76" width="10.21" height="9.22" fill="#a6c84d"/>
<rect x="386.08" y="838.76" width="10.21" height="9.22" fill="#93c676"/>
<rect x="396.00" y="838.76" width="10.21" height="9.22" fill="#7cc4a7"/>
<rect x="405.91" y="838.76" width="10.21" height="9.22" fill="#62c1d5"/>
<rect x="415.82" y="838.76" width="10.21" height="9.22" fill="#40b8e8"/>
<rect x="425.74" y="838.76" width="10.21" height="9.22" fill="#3f8dd1"/>
<rect x="435.65" y="838.76" width="10.21" height="9.22" fill="#295aaa"/>
<rect x="445.57" y="838.76" width="10.21" height="9.22" fill="#214ba1"/>
<rect x="455.48" y="838.76" width="10.21" height="9.22" fill="#20479f"/>
<rect x="465.39" y="838.76" width="10.21" height="9.22" fill="#233e92"/>
<rect x="257.20" y="847.68" width="10.21" height="9.22" fill="#263272"/>
<rect x="267.11" y="847.68" width="10.21" height="9.22" fill="#263272"/>
<rect x="277.03" y="847.68" width="10.21" height="9.22" fill="#263272"/>
<rect x="286.94" y="847.68" width="10.21" height="9.22" fill="#263272"/>
<rect x="296.86" y="847.68" width="10.21" height="9.22" fill="#263272"/>
<rect x="306.77" y="847.68" width="10.21" height="9.22" fill="#263272"/>
<rect x="316.68" y="847.68" width="10.21" height="9.22" fill="#263273"/>
<rect x="326.60" y="847.68" width="10.21" height="9.22" fill="#263478"/>
<rect x="336.51" y="847.68" width="10.21" height="9.22" fill="#21459c"/>
<rect x="346.43" y="847.68" width="10.21" height="9.22" fill="#214aa1"/>
<rect x="356.34" y="847.68" width="10.21" height="9.22" fill="#2b5eac"/>
<rect x="366.25" y="847.68" width="10.21" height="9.22" fill="#40b4e6"/>
<rect x="376.17" y="847.68" width="10.21" height="9.22" fill="#60c1d6"/>
<rect x="386.08" y="847.68" width="10.21" height="9.22" fill="#64c2d4"/>
<rect x="396.00" y="847.68" width="10.21" height="9.22" fill="#61c1d6"/>
<rect x="405.91" y="847.68" width="10.21" height="9.22" fill="#45b9e5"/>
<rect x="415.82" y="847.68" width="10.21" height="9.22" fill="#40b7e7"/>
<rect x="425.74" y="847.68" width="10.21" height="9.22" fill="#4092d5"/>
<rect x="435.65" y="847.68" width="10.21" height="9.22" fill="#336fb7"/>
<rect x="445.57" y="847.68" width="10.21" height="9.22" fill="#2857a8"/>
<rect x="455.48" y="847.68" width="10.21" height="9.22" fill="#214aa1"/>
<rect x="465.39" y="847.68" width="10.21" height="9.22" fill="#2048a0"/>
<rect x="257.20" y="856.60" width="10.21" height="9.22" fill="#263272"/>
<rect x="267.11" y="856.60" width="10.21" height="9.22" fill="#263272"/>
<rect x="277.03" y="856.60" width="10.21" height="9.22" fill="#263272"/>
<rect x="286.94" y="856.60" width="10.21" height="9.22" fill="#263272"/>
<rect x="296.86" y="856.60" width="10.21" height="9.22" fill="#263272"/>
<rect x="306.77" y="856.60" width="10.21" height="9.22" fill="#263272"/>
<rect x="316.68" y="856.60" width="10.21" height="9.22" fill="#263272"/>
<rect x="326.60" y="856.60" width="10.21" height="9.22" fill="#263274"/>
<rect x="336.51" y="856.60" width="10.21" height="9.22" fill="#263478"/>
<rect x="346.43" y="856.60" width="10.21" height="9.22" fill="#243c90"/>
<rect x="356.34" y="856.60" width="10.21" height="9.22" fill="#20479f"/>
<rect x="366.25" y="856.60" width="10.21" height="9.22" fill="#224ca2"/>
<rect x="376.17" y="856.60" width="10.21" height="9.22" fill="#2a5dab"/>
<rect x="386.08" y="856.60" width="10.21" height="9.22" fill="#387ac1"/>
<rect x="396.00" y="856.60" width="10.21" height="9.22" fill="#40b6e7"/>
<rect x="405.91" y="856.60" width="10.21" height="9.22" fill="#41b8e8"/>
<rect x="415.82" y="856.60" width="10.21" height="9.22" fill="#40b7e8"/>
<rect x="425.74" y="856.60" width="10.21" height="9.22" fill="#40b2e5"/>
<rect x="435.65" y="856.60" width="10.21" height="9.22" fill="#4090d4"/>
<rect x="445.57" y="856.60" width="10.21" height="9.22" fill="#3470b8"/>
<rect x="455.48" y="856.60" width="10.21" height="9.22" fill="#2858a8"/>
<rect x="465.39" y="856.60" width="10.21" height="9.22" fill="#224ba2"/>
<rect x="257.20" y="865.52" width="10.21" height="9.22" fill="#263272"/>
<rect x="267.11" y="865.52" width="10.21" height="9.22" fill="#263272"/>
<rect x="277.03" y="865.52" width="10.21" height="9.22" fill="#263272"/>
<rect x="286.94" y="865.52" width="10.21" height="9.22" fill="#263272"/>
<rect x="296.86" y="865.52" width="10.21" height="9.22" fill="#263272"/>
<rect x="306.77" y="865.52" width="10.21" height="9.22" fill="#263272"/>
<rect x="316.68" y="865.52" width="10.21" height="9.22" fill="#263272"/>
<rect x="326.60" y="865.52" width="10.21" height="9.22" fill="#263272"/>
<rect x="336.51" y="865.52" width="10.21" height="9.22" fill="#263273"/>
<rect x="346.43" y="865.52" width="10.21" height="9.22" fill="#263375"/>
<rect x="356.34" y="865.52" width="10.21" height="9.22" fill="#25357a"/>
<rect x="366.25" y="865.52" width="10.21" height="9.22" fill="#21459c"/>
<rect x="376.17" y="865.52" width="10.21" height="9.22" fill="#214aa1"/>
<rect x="386.08" y="865.52" width="10.21" height="9.22" fill="#2a5cab"/>
<rect x="396.00" y="865.52" width="10.21" height="9.22" fill="#40abe1"/>
<rect x="405.91" y="865.52" width="10.21" height="9.22" fill="#40b8e8"/>
<rect x="415.82" y="865.52" width="10.21" height="9.22" fill="#43b9e6"/>
<rect x="425.74" y="865.52" width="10.21" height="9.22" fill="#43b9e6"/>
<rect x="435.65" y="865.52" width="10.21" height="9.22" fill="#41b8e7"/>
<rect x="445.57" y="865.52" width="10.21" height="9.22" fill="#40b3e5"/>
<rect x="455.48" y="865.52" width="10.21" height="9.22" fill="#3d89ce"/>
<rect x="465.39" y="865.52" width="10.21" height="9.22" fill="#2a5caa"/>
<rect x="257.20" y="874.44" width="10.21" height="9.22" fill="#263272"/>
<rect x="267.11" y="874.44" width="10.21" height="9.22" fill="#263272"/>
<rect x="277.03" y="874.44" width="10.21" height="9.22" fill="#263272"/>
<rect x="286.94" y="874.44" width="10.21" height="9.22" fill="#263272"/>
<rect x="296.86" y="874.44" width="10.21" height="9.22" fill="#263272"/>
<rect x="306.77" y="874.44" width="10.21" height="9.22" fill="#263272"/>
<rect x="316.68" y="874.44" width="10.21" height="9.22" fill="#263272"/>
<rect x="326.60" y="874.44" width="10.21" height="9.22" fill="#263272"/>
<rect x="336.51" y="874.44" width="10.21" height="9.22" fill="#263272"/>
<rect x="346.43" y="874.44" width="10.21" height="9.22" fill="#263272"/>
<rect x="356.34" y="874.44" width="10.21" height="9.22" fill="#263374"/>
<rect x="366.25" y="874.44" width="10.21" height="9.22" fill="#25367c"/>
<rect x="376.17" y="874.44" width="10.21" height="9.22" fill="#2048a0"/>
<rect x="386.08" y="874.44" width="10.21" height="9.22" fill="#2959a9"/>
<rect x="396.00" y="874.44" width="10.21" height="9.22" fill="#4091d4"/>
<rect x="405.91" y="874.44" width="10.21" height="9.22" fill="#43b9e6"/>
<rect x="415.82" y="874.44" width="10.21" height="9.22" fill="#5fc1d7"/>
<rect x="425.74" y="874.44" width="10.21" height="9.22" fill="#63c2d5"/>
<rect x="435.65" y="874.44" width="10.21" height="9.22" fill="#63c2d4"/>
<rect x="445.57" y="874.44" width="10.21" height="9.22" fill="#60c1d6"/>
<rect x="455.48" y="874.44" width="10.21" height="9.22" fill="#40b8e8"/>
<rect x="465.39" y="874.44" width="10.21" height="9.22" fill="#387bc2"/>
<rect x="257.20" y="883.36" width="10.21" height="9.22" fill="#263272"/>
<rect x="267.11" y="883.36" width="10.21" height="9.22" fill="#263272"/>
<rect x="277.03" y="883.36" width="10.21" height="9.22" fill="#263272"/>
<rect x="286.94" y="883.36" width="10.21" height="9.22" fill="#263272"/>
<rect x="296.86" y="883.36" width="10.21" height="9.22" fill="#263272"/>
<rect x="306.77" y="883.36" width="10.21" height="9.22" fill="#263272"/>
<rect x="316.68" y="883.36" width="10.21" height="9.22" fill="#263272"/>
<rect x="326.60" y="883.36" width="10.21" height="9.22" fill="#263272"/>
<rect x="336.51" y="883.36" width="10.21" height="9.22" fill="#263272"/>
<rect x="346.43" y="883.36" width="10.21" height="9.22" fill="#263272"/>
<rect x="356.34" y="883.36" width="10.21" height="9.22" fill="#263375"/>
<rect x="366.25" y="883.36" width="10.21" height="9.22" fill="#243c90"/>
<rect x="376.17" y="883.36" width="10.21" height="9.22" fill="#2048a0"/>
<rect x="386.08" y="883.36" width="10.21" height="9.22" fill="#2a5caa"/>
<rect x="396.00" y="883.36" width="10.21" height="9.22" fill="#40b4e6"/>
<rect x="405.91" y="883.36" width="10.21" height="9.22" fill="#61c1d6"/>
<rect x="415.82" y="883.36" width="10.21" height="9.22" fill="#67c2cf"/>
<rect x="425.74" y="883.36" width="10.21" height="9.22" fill="#78c4af"/>
<rect x="435.65" y="883.36" width="10.21" height="9.22" fill="#79c4ac"/>
<rect x="445.57" y="883.36" width="10.21" height="9.22" fill="#77c4b0"/>
<rect x="455.48" y="883.36" width="10.21" height="9.22" fill="#63c2d5"/>
<rect x="465.39" y="883.36" width="10.21" height="9.22" fill="#46bae5"/>
<rect x="267.11" y="892.28" width="10.21" height="9.22" fill="#263272"/>
<rect x="277.03" y="892.28" width="10.21" height="9.22" fill="#263272"/>
<rect x="286.94" y="892.28" width="10.21" height="9.22" fill="#263272"/>
<rect x="296.86" y="892.28" width="10.21" height="9.22" fill="#263272"/>
<rect x="306.77" y="892.28" width="10.21" height="9.22" fill="#263272"/>
<rect x="316.68" y="892.28" width="10.21" height="9.22" fill="#263272"/>
<rect x="326.60" y="892.28" width="10.21" height="9.22" fill="#263272"/>
<rect x="336.51" y="892.28" width="10.21" height="9.22" fill="#263273"/>
<rect x="346.43" y="892.28" width="10.21" height="9.22" fill="#263375"/>
<rect x="356.34" y="892.28" width="10.21" height="9.22" fill="#25357b"/>
<rect x="366.25" y="892.28" width="10.21" height="9.22" fill="#21469e"/>
<rect x="376.17" y="892.28" width="10.21" height="9.22" fill="#224ca2"/>
<rect x="386.08" y="892.28" width="10.21" height="9.22" fill="#3573bb"/>
<rect x="396.00" y="892.28" width="10.21" height="9.22" fill="#5dc0d8"/>
<rect x="405.91" y="892.28" width="10.21" height="9.22" fill="#78c4b0"/>
<rect x="415.82" y="892.28" width="10.21" height="9.22" fill="#7dc4a6"/>
<rect x="425.74" y="892.28" width="10.21" height="9.22" fill="#7ec4a3"/>
<rect x="435.65" y="892.28" width="10.21" height="9.22" fill="#7ec4a2"/>
<rect x="445.57" y="892.28" width="10.21" height="9.22" fill="#7ec4a3"/>
<rect x="455.48" y="892.28" width="10.21" height="9.22" fill="#7cc4a8"/>
<rect x="465.39" y="892.28" width="10.21" height="9.22" fill="#79c4ae"/>
<rect x="277.03" y="901.20" width="10.21" height="9.22" fill="#263272"/>
<rect x="286.94" y="901.20" width="10.21" height="9.22" fill="#263272"/>
<rect x="296.86" y="901.20" width="10.21" height="9.22" fill="#263272"/>
<rect x="306.77" y="901.20" width="10.21" height="9.22" fill="#263272"/>
<rect x="316.68" y="901.20" width="10.21" height="9.22" fill="#263272"/>
<rect x="326.60" y="901.20" width="10.21" height="9.22" fill="#263274"/>
<rect x="336.51" y="901.20" width="10.21" height="9.22" fill="#263478"/>
<rect x="346.43" y="901.20" width="10.21" height="9.22" fill="#243c90"/>
<rect x="356.34" y="901.20" width="10.21" height="9.22" fill="#20479e"/>
<rect x="366.25" y="901.20" width="10.21" height="9.22" fill="#224ba2"/>
<rect x="376.17" y="901.20" width="10.21" height="9.22" fill="#336db6"/>
<rect x="386.08" y="901.20" width="10.21" height="9.22" fill="#40b6e7"/>
<rect x="396.00" y="901.20" width="10.21" height="9.22" fill="#65c2d1"/>
<rect x="405.91" y="901.20" width="10.21" height="9.22" fill="#7ec4a3"/>
<rect x="415.82" y="901.20" width="10.21" height="9.22" fill="#93c675"/>
<rect x="425.74" y="901.20" width="10.21" height="9.22" fill="#95c671"/>
<rect x="435.65" y="901.20" width="10.21" height="9.22" fill="#95c671"/>
<rect x="445.57" y="901.20" width="10.21" height="9.22" fill="#95c672"/>
<rect x="455.48" y="901.20" width="10.21" height="9.22" fill="#92c578"/>
<rect x="465.39" y="901.20" width="10.21" height="9.22" fill="#7fc4a1"/>
<rect x="277.03" y="910.12" width="10.21" height="9.22" fill="#263272"/>
<rect x="286.94" y="910.12" width="10.21" height="9.22" fill="#263272"/>
<rect x="296.86" y="910.12" width="10.21" height="9.22" fill="#263272"/>
<rect x="306.77" y="910.12" width="10.21" height="9.22" fill="#263272"/>
<rect x="316.68" y="910.12" width="10.21" height="9.22" fill="#263274"/>
<rect x="326.60" y="910.12" width="10.21" height="9.22" fill="#26347a"/>
<rect x="336.51" y="910.12" width="10.21" height="9.22" fill="#21459c"/>
<rect x="346.43" y="910.12" width="10.21" height="9.22" fill="#2149a1"/>
<rect x="356.34" y="910.12" width="10.21" height="9.22" fill="#2857a8"/>
<rect x="366.25" y="910.12" width="10.21" height="9.22" fill="#3470b8"/>
<rect x="376.17" y="910.12" width="10.21" height="9.22" fill="#40b5e6"/>
<rect x="386.08" y="910.12" width="10.21" height="9.22" fill="#63c2d4"/>
<rect x="396.00" y="910.12" width="10.21" height="9.22" fill="#7dc4a6"/>
<rect x="405.91" y="910.12" width="10.21" height="9.22" fill="#95c672"/>
<rect x="415.82" y="910.12" width="10.21" height="9.22" fill="#b0cb3f"/>
<rect x="425.74" y="910.12" width="10.21" height="9.22" fill="#b4cc39"/>
<rect x="435.65" y="910.12" width="10.21" height="9.22" fill="#b4cc38"/>
<rect x="445.57" y="910.12" width="10.21" height="9.22" fill="#b1cb3c"/>
<rect x="455.48" y="910.12" width="10.21" height="9.22" fill="#98c66b"/>
<rect x="277.03" y="919.04" width="10.21" height="9.22" fill="#263272"/>
<rect x="286.94" y="919.04" width="10.21" height="9.22" fill="#263272"/>
<rect x="296.86" y="919.04" width="10.21" height="9.22" fill="#263272"/>
<rect x="306.77" y="919.04" width="10.21" height="9.22" fill="#263274"/>
<rect x="316.68" y="919.04" width="10.21" height="9.22" fill="#25357a"/>
<rect x="326.60" y="919.04" width="10.21" height="9.22" fill="#21469d"/>
<rect x="336.51" y="919.04" width="10.21" height="9.22" fill="#214aa1"/>
<rect x="346.43" y="919.04" width="10.21" height="9.22" fill="#295aaa"/>
<rect x="356.34" y="919.04" width="10.21" height="9.22" fill="#3f8fd3"/>
<rect x="366.25" y="919.04" width="10.21" height="9.22" fill="#44b9e6"/>
<rect x="376.17" y="919.04" width="10.21" height="9.22" fill="#66c2cf"/>
<rect x="386.08" y="919.04" width="10.21" height="9.22" fill="#7fc4a1"/>
<rect x="396.00" y="919.04" width="10.21" height="9.22" fill="#97c66e"/>
<rect x="405.91" y="919.04" width="10.21" height="9.22" fill="#b4cc38"/>
<rect x="415.82" y="919.04" width="10.21" height="9.22" fill="#d4d712"/>
<rect x="425.74" y="919.04" width="10.21" height="9.22" fill="#dbd911"/>
<rect x="435.65" y="919.04" width="10.21" height="9.22" fill="#f3df1d"/>
<rect x="445.57" y="919.04" width="10.21" height="9.22" fill="#ddd912"/>
<rect x="286.94" y="927.96" width="10.21" height="9.22" fill="#263272"/>
<rect x="296.86" y="927.96" width="10.21" height="9.22" fill="#263374"/>
<rect x="306.77" y="927.96" width="10.21" height="9.22" fill="#25357a"/>
<rect x="316.68" y="927.96" width="10.21" height="9.22" fill="#20479f"/>
<rect x="326.60" y="927.96" width="10.21" height="9.22" fill="#2756a7"/>
<rect x="336.51" y="927.96" width="10.21" height="9.22" fill="#2b5eac"/>
<rect x="346.43" y="927.96" width="10.21" height="9.22" fill="#40aee3"/>
<rect x="356.34" y="927.96" width="10.21" height="9.22" fill="#61c1d5"/>
<rect x="366.25" y="927.96" width="10.21" height="9.22" fill="#7dc4a6"/>
<rect x="376.17" y="927.96" width="10.21" height="9.22" fill="#95c672"/>
<rect x="386.08" y="927.96" width="10.21" height="9.22" fill="#b1cb3c"/>
<rect x="396.00" y="927.96" width="10.21" height="9.22" fill="#d7d811"/>
<rect x="405.91" y="927.96" width="10.21" height="9.22" fill="#f7e020"/>
<rect x="415.82" y="927.96" width="10.21" height="9.22" fill="#f8da20"/>
<rect x="425.74" y="927.96" width="10.21" height="9.22" fill="#f8d420"/>
<rect x="435.65" y="927.96" width="10.21" height="9.22" fill="#f8b020"/>
<rect x="445.57" y="927.96" width="10.21" height="9.22" fill="#f8ad20"/>
<rect x="296.86" y="936.88" width="10.21" height="9.22" fill="#25357a"/>
<rect x="306.77" y="936.88" width="10.21" height="9.22" fill="#20479f"/>
<rect x="316.68" y="936.88" width="10.21" height="9.22" fill="#2858a8"/>
<rect x="326.60" y="936.88" width="10.21" height="9.22" fill="#3676bd"/>
<rect x="336.51" y="936.88" width="10.21" height="9.22" fill="#41b8e7"/>
<rect x="346.43" y="936.88" width="10.21" height="9.22" fill="#66c2cf"/>
<rect x="356.34" y="936.88" width="10.21" height="9.22" fill="#81c49d"/>
<rect x="366.25" y="936.88" width="10.21" height="9.22" fill="#afcb3f"/>
<rect x="376.17" y="936.88" width="10.21" height="9.22" fill="#d7d811"/>
<rect x="386.08" y="936.88" width="10.21" height="9.22" fill="#f8de20"/>
<rect x="396.00" y="936.88" width="10.21" height="9.22" fill="#f8b520"/>
<rect x="405.91" y="936.88" width="10.21" height="9.22" fill="#f7a920"/>
<rect x="415.82" y="936.88" width="10.21" height="9.22" fill="#f17e20"/>
<rect x="425.74" y="936.88" width="10.21" height="9.22" fill="#f07720"/>
<rect x="435.65" y="936.88" width="10.21" height="9.22" fill="#ea5220"/>
<rect x="445.57" y="936.88" width="10.21" height="9.22" fill="#e94f20"/>
<rect x="306.77" y="945.80" width="10.21" height="9.22" fill="#2857a8"/>
<rect x="316.68" y="945.80" width="10.21" height="9.22" fill="#3f8dd2"/>
<rect x="326.60" y="945.80" width="10.21" height="9.22" fill="#5dc0d8"/>
<rect x="336.51" y="945.80" width="10.21" height="9.22" fill="#7bc4aa"/>
<rect x="346.43" y="945.80" width="10.21" height="9.22" fill="#94c674"/>
<rect x="356.34" y="945.80" width="10.21" height="9.22" fill="#c9d418"/>
<rect x="366.25" y="945.80" width="10.21" height="9.22" fill="#f7e020"/>
<rect x="376.17" y="945.80" width="10.21" height="9.22" fill="#f8b520"/>
<rect x="386.08" y="945.80" width="10.21" height="9.22" fill="#f7a820"/>
<rect x="396.00" y="945.80" width="10.21" height="9.22" fill="#f07820"/>
<rect x="405.91" y="945.80" width="10.21" height="9.22" fill="#e84820"/>
<rect x="415.82" y="945.80" width="10.21" height="9.22" fill="#e12520"/>
<rect x="425.74" y="945.80" width="10.21" height="9.22" fill="#e02020"/>
<rect x="435.65" y="945.80" width="10.21" height="9.22" fill="#de2020"/>
<rect x="445.57" y="945.80" width="10.21" height="9.22" fill="#dd201f"/>
<rect x="316.68" y="954.72" width="10.21" height="9.22" fill="#42b9e7"/>
<rect x="326.60" y="954.72" width="10.21" height="9.22" fill="#76c4b2"/>
<rect x="336.51" y="954.72" width="10.21" height="9.22" fill="#92c578"/>
<rect x="346.43" y="954.72" width="10.21" height="9.22" fill="#b1cb3d"/>
<rect x="356.34" y="954.72" width="10.21" height="9.22" fill="#f2de1d"/>
<rect x="366.25" y="954.72" width="10.21" height="9.22" fill="#f8b520"/>
<rect x="376.17" y="954.72" width="10.21" height="9.22" fill="#f18220"/>
<rect x="386.08" y="954.72" width="10.21" height="9.22" fill="#ea5520"/>
<rect x="396.00" y="954.72" width="10.21" height="9.22" fill="#e22b20"/>
<rect x="405.91" y="954.72" width="10.21" height="9.22" fill="#be1c1a"/>
<rect x="415.82" y="954.72" width="10.21" height="9.22" fill="#931913"/>
<rect x="425.74" y="954.72" width="10.21" height="9.22" fill="#8e1912"/>
<rect x="435.65" y="954.72" width="10.21" height="9.22" fill="#8e1912"/>
<rect x="445.57" y="954.72" width="10.21" height="9.22" fill="#8e1912"/>
<path d="M366.25 678.20v8.92M356.34 687.12h9.91M376.17 678.20v8.92M366.25 687.12h9.91M386.08 678.20v8.92M376.17 687.12h9.91M396.00 678.20v8.92M386.08 687.12h9.91M405.91 678.20v8.92M396.00 687.12h9.91M415.82 678.20v8.92M405.91 687.12h9.91M425.74 678.20v8.92M415.82 687.12h9.91M425.74 687.12h9.91M356.34 687.12v8.92M346.43 696.04h9.91M366.25 687.12v8.92M356.34 696.04h9.91M376.17 687.12v8.92M366.25 696.04h9.91M386.08 687.12v8.92M376.17 696.04h9.91M396.00 687.12v8.92M386.08 696.04h9.91M405.91 687.12v8.92M396.00 696.04h9.91M415.82 687.12v8.92M405.91 696.04h9.91M425.74 687.12v8.92M415.82 696.04h9.91M435.65 687.12v8.92M425.74 696.04h9.91M435.65 696.04h9.91M326.60 696.04v8.92M316.68 704.96h9.91M336.51 696.04v8.92M326.60 704.96h9.91M346.43 696.04v8.92M336.51 704.96h9.91M356.34 696.04v8.92M346.43 704.96h9.91M366.25 696.04v8.92M356.34 704.96h9.91M376.17 696.04v8.92M366.25 704.96h9.91M386.08 696.04v8.92M376.17 704.96h9.91M396.00 696.04v8.92M386.08 704.96h9.91M405.91 696.04v8.92M396.00 704.96h9.91M415.82 696.04v8.92M405.91 704.96h9.91M425.74 696.04v8.92M415.82 704.96h9.91M435.65 696.04v8.92M425.74 704.96h9.91M445.57 696.04v8.92M435.65 704.96h9.91M445.57 704.96h9.91M316.68 704.96v8.92M306.77 713.88h9.91M326.60 704.96v8.92M316.68 713.88h9.91M336.51 704.96v8.92M326.60 713.88h9.91M346.43 704.96v8.92M336.51 713.88h9.91M356.34 704.96v8.92M346.43 713.88h9.91M366.25 704.96v8.92M356.34 713.88h9.91M376.17 704.96v8.92M366.25 713.88h9.91M386.08 704.96v8.92M376.17 713.88h9.91M396.00 704.96v8.92M386.08 713.88h9.91M405.91 704.96v8.92M396.00 713.88h9.91M415.82 704.96v8.92M405.91 713.88h9.91M425.74 704.96v8.92M415.82 713.88h9.91M435.65 704.96v8.92M425.74 713.88h9.91M445.57 704.96v8.92M435.65 713.88h9.91M455.48 704.96v8.92M445.57 713.88h9.91M455.48 713.88h9.91M306.77 713.88v8.92M296.86 722.80h9.91M316.68 713.88v8.92M306.77 722.80h9.91M326.60 713.88v8.92M316.68 722.80h9.91M336.51 713.88v8.92M326.60 722.80h9.91M346.43 713.88v8.92M336.51 722.80h9.91M356.34 713.88v8.92M346.43 722.80h9.91M366.25 713.88v8.92M356.34 722.80h9.91M376.17 713.88v8.92M366.25 722.80h9.91M386.08 713.88v8.92M376.17 722.80h9.91M396.00 713.88v8.92M386.08 722.80h9.91M405.91 713.88v8.92M396.00 722.80h9.91M415.82 713.88v8.92M405.91 722.80h9.91M425.74 713.88v8.92M415.82 722.80h9.91M435.65 713.88v8.92M425.74 722.80h9.91M445.57 713.88v8.92M435.65 722.80h9.91M455.48 713.88v8.92M445.57 722.80h9.91M465.39 713.88v8.92M455.48 722.80h9.91M465.39 722.80h9.91M306.77 722.80v8.92M296.86 731.72h9.91M316.68 722.80v8.92M306.77 731.72h9.91M326.60 722.80v8.92M316.68 731.72h9.91M336.51 722.80v8.92M326.60 731.72h9.91M346.43 722.80v8.92M336.51 731.72h9.91M356.34 722.80v8.92M346.43 731.72h9.91M366.25 722.80v8.92M356.34 731.72h9.91M376.17 722.80v8.92M366.25 731.72h9.91M386.08 722.80v8.92M376.17 731.72h9.91M396.00 722.80v8.92M386.08 731.72h9.91M405.91 722.80v8.92M396.00 731.72h9.91M415.82 722.80v8.92M405.91 731.72h9.91M425.74 722.80v8.92M415.82 731.72h9.91M435.65 722.80v8.92M425.74 731.72h9.91M445.57 722.80v8.92M435.65 731.72h9.91M455.48 722.80v8.92M445.57 731.72h9.91M465.39 722.80v8.92M455.48 731.72h9.91M465.39 731.72h9.91M306.77 731.72v8.92M296.86 740.64h9.91M316.68 731.72v8.92M306.77 740.64h9.91M326.60 731.72v8.92M316.68 740.64h9.91M336.51 731.72v8.92M326.60 740.64h9.91M346.43 731.72v8.92M336.51 740.64h9.91M356.34 731.72v8.92M346.43 740.64h9.91M366.25 731.72v8.92M356.34 740.64h9.91M376.17 731.72v8.92M366.25 740.64h9.91M386.08 731.72v8.92M376.17 740.64h9.91M396.00 731.72v8.92M386.08 740.64h9.91M405.91 731.72v8.92M396.00 740.64h9.91M415.82 731.72v8.92M405.91 740.64h9.91M425.74 731.72v8.92M415.82 740.64h9.91M435.65 731.72v8.92M425.74 740.64h9.91M445.57 731.72v8.92M435.65 740.64h9.91M455.48 731.72v8.92M445.57 740.64h9.91M465.39 731.72v8.92M455.48 740.64h9.91M465.39 740.64h9.91M296.86 740.64v8.92M286.94 749.56h9.91M306.77 740.64v8.92M296.86 749.56h9.91M316.68 740.64v8.92M306.77 749.56h9.91M326.60 740.64v8.92M316.68 749.56h9.91M336.51 740.64v8.92M326.60 749.56h9.91M346.43 740.64v8.92M336.51 749.56h9.91M356.34 740.64v8.92M346.43 749.56h9.91M366.25 740.64v8.92M356.34 749.56h9.91M376.17 740.64v8.92M366.25 749.56h9.91M386.08 740.64v8.92M376.17 749.56h9.91M396.00 740.64v8.92M386.08 749.56h9.91M405.91 740.64v8.92M396.00 749.56h9.91M415.82 740.64v8.92M405.91 749.56h9.91M425.74 740.64v8.92M415.82 749.56h9.91M435.65 740.64v8.92M425.74 749.56h9.91M445.57 740.64v8.92M435.65 749.56h9.91M455.48 740.64v8.92M445.57 749.56h9.91M465.39 740.64v8.92M455.48 749.56h9.91M465.39 749.56h9.91M286.94 749.56v8.92M277.03 758.48h9.91M296.86 749.56v8.92M286.94 758.48h9.91M306.77 749.56v8.92M296.86 758.48h9.91M316.68 749.56v8.92M306.77 758.48h9.91M326.60 749.56v8.92M316.68 758.48h9.91M336.51 749.56v8.92M326.60 758.48h9.91M346.43 749.56v8.92M336.51 758.48h9.91M356.34 749.56v8.92M346.43 758.48h9.91M366.25 749.56v8.92M356.34 758.48h9.91M376.17 749.56v8.92M366.25 758.48h9.91M386.08 749.56v8.92M376.17 758.48h9.91M396.00 749.56v8.92M386.08 758.48h9.91M405.91 749.56v8.92M396.00 758.48h9.91M415.82 749.56v8.92M405.91 758.48h9.91M425.74 749.56v8.92M415.82 758.48h9.91M435.65 749.56v8.92M425.74 758.48h9.91M445.57 749.56v8.92M435.65 758.48h9.91M455.48 749.56v8.92M445.57 758.48h9.91M465.39 749.56v8.92M455.48 758.48h9.91M465.39 758.48h9.91M286.94 758.48v8.92M277.03 767.40h9.91M296.86 758.48v8.92M286.94 767.40h9.91M306.77 758.48v8.92M296.86 767.40h9.91M316.68 758.48v8.92M306.77 767.40h9.91M326.60 758.48v8.92M316.68 767.40h9.91M336.51 758.48v8.92M326.60 767.40h9.91M346.43 758.48v8.92M336.51 767.40h9.91M356.34 758.48v8.92M346.43 767.40h9.91M366.25 758.48v8.92M356.34 767.40h9.91M376.17 758.48v8.92M366.25 767.40h9.91M386.08 758.48v8.92M376.17 767.40h9.91M396.00 758.48v8.92M386.08 767.40h9.91M405.91 758.48v8.92M396.00 767.40h9.91M415.82 758.48v8.92M405.91 767.40h9.91M425.74 758.48v8.92M415.82 767.40h9.91M435.65 758.48v8.92M425.74 767.40h9.91M445.57 758.48v8.92M435.65 767.40h9.91M455.48 758.48v8.92M445.57 767.40h9.91M465.39 758.48v8.92M455.48 767.40h9.91M465.39 767.40h9.91M286.94 767.40v8.92M277.03 776.32h9.91M296.86 767.40v8.92M286.94 776.32h9.91M306.77 767.40v8.92M296.86 776.32h9.91M316.68 767.40v8.92M306.77 776.32h9.91M326.60 767.40v8.92M316.68 776.32h9.91M336.51 767.40v8.92M326.60 776.32h9.91M346.43 767.40v8.92M336.51 776.32h9.91M356.34 767.40v8.92M346.43 776.32h9.91M366.25 767.40v8.92M356.34 776.32h9.91M376.17 767.40v8.92M366.25 776.32h9.91M386.08 767.40v8.92M376.17 776.32h9.91M396.00 767.40v8.92M386.08 776.32h9.91M405.91 767.40v8.92M396.00 776.32h9.91M415.82 767.40v8.92M405.91 776.32h9.91M425.74 767.40v8.92M415.82 776.32h9.91M435.65 767.40v8.92M425.74 776.32h9.91M445.57 767.40v8.92M435.65 776.32h9.91M455.48 767.40v8.92M445.57 776.32h9.91M465.39 767.40v8.92M455.48 776.32h9.91M465.39 776.32h9.91M277.03 776.32v8.92M267.11 785.24h9.91M286.94 776.32v8.92M277.03 785.24h9.91M296.86 776.32v8.92M286.94 785.24h9.91M306.77 776.32v8.92M296.86 785.24h9.91M316.68 776.32v8.92M306.77 785.24h9.91M326.60 776.32v8.92M316.68 785.24h9.91M336.51 776.32v8.92M326.60 785.24h9.91M346.43 776.32v8.92M336.51 785.24h9.91M356.34 776.32v8.92M346.43 785.24h9.91M366.25 776.32v8.92M356.34 785.24h9.91M376.17 776.32v8.92M366.25 785.24h9.91M386.08 776.32v8.92M376.17 785.24h9.91M396.00 776.32v8.92M386.08 785.24h9.91M405.91 776.32v8.92M396.00 785.24h9.91M415.82 776.32v8.92M405.91 785.24h9.91M425.74 776.32v8.92M415.82 785.24h9.91M435.65 776.32v8.92M425.74 785.24h9.91M445.57 776.32v8.92M435.65 785.24h9.91M455.48 776.32v8.92M445.57 785.24h9.91M465.39 776.32v8.92M455.48 785.24h9.91M465.39 785.24h9.91M267.11 785.24v8.92M257.20 794.16h9.91M277.03 785.24v8.92M267.11 794.16h9.91M286.94 785.24v8.92M277.03 794.16h9.91M296.86 785.24v8.92M286.94 794.16h9.91M306.77 785.24v8.92M296.86 794.16h9.91M316.68 785.24v8.92M306.77 794.16h9.91M326.60 785.24v8.92M316.68 794.16h9.91M336.51 785.24v8.92M326.60 794.16h9.91M346.43 785.24v8.92M336.51 794.16h9.91M356.34 785.24v8.92M346.43 794.16h9.91M366.25 785.24v8.92M356.34 794.16h9.91M376.17 785.24v8.92M366.25 794.16h9.91M386.08 785.24v8.92M376.17 794.16h9.91M396.00 785.24v8.92M386.08 794.16h9.91M405.91 785.24v8.92M396.00 794.16h9.91M415.82 785.24v8.92M405.91 794.16h9.91M425.74 785.24v8.92M415.82 794.16h9.91M435.65 785.24v8.92M425.74 794.16h9.91M445.57 785.24v8.92M435.65 794.16h9.91M455.48 785.24v8.92M445.57 794.16h9.91M465.39 785.24v8.92M455.48 794.16h9.91M465.39 794.16h9.91M267.11 794.16v8.92M257.20 803.08h9.91M277.03 794.16v8.92M267.11 803.08h9.91M286.94 794.16v8.92M277.03 803.08h9.91M296.86 794.16v8.92M286.94 803.08h9.91M306.77 794.16v8.92M296.86 803.08h9.91M316.68 794.16v8.92M306.77 803.08h9.91M326.60 794.16v8.92M316.68 803.08h9.91M336.51 794.16v8.92M326.60 803.08h9.91M346.43 794.16v8.92M336.51 803.08h9.91M356.34 794.16v8.92M346.43 803.08h9.91M366.25 794.16v8.92M356.34 803.08h9.91M376.17 794.16v8.92M366.25 803.08h9.91M386.08 794.16v8.92M376.17 803.08h9.91M396.00 794.16v8.92M386.08 803.08h9.91M405.91 794.16v8.92M396.00 803.08h9.91M415.82 794.16v8.92M405.91 803.08h9.91M425.74 794.16v8.92M415.82 803.08h9.91M435.65 794.16v8.92M425.74 803.08h9.91M445.57 794.16v8.92M435.65 803.08h9.91M455.48 794.16v8.92M445.57 803.08h9.91M465.39 794.16v8.92M455.48 803.08h9.91M465.39 803.08h9.91M267.11 803.08v8.92M257.20 812.00h9.91M277.03 803.08v8.92M267.11 812.00h9.91M286.94 803.08v8.92M277.03 812.00h9.91M296.86 803.08v8.92M286.94 812.00h9.91M306.77 803.08v8.92M296.86 812.00h9.91M316.68 803.08v8.92M306.77 812.00h9.91M326.60 803.08v8.92M316.68 812.00h9.91M336.51 803.08v8.92M326.60 812.00h9.91M346.43 803.08v8.92M336.51 812.00h9.91M356.34 803.08v8.92M346.43 812.00h9.91M366.25 803.08v8.92M356.34 812.00h9.91M376.17 803.08v8.92M366.25 812.00h9.91M386.08 803.08v8.92M376.17 812.00h9.91M396.00 803.08v8.92M386.08 812.00h9.91M405.91 803.08v8.92M396.00 812.00h9.91M415.82 803.08v8.92M405.91 812.00h9.91M425.74 803.08v8.92M415.82 812.00h9.91M435.65 803.08v8.92M425.74 812.00h9.91M445.57 803.08v8.92M435.65 812.00h9.91M455.48 803.08v8.92M445.57 812.00h9.91M465.39 803.08v8.92M455.48 812.00h9.91M465.39 812.00h9.91M267.11 812.00v8.92M257.20 820.92h9.91M277.03 812.00v8.92M267.11 820.92h9.91M286.94 812.00v8.92M277.03 820.92h9.91M296.86 812.00v8.92M286.94 820.92h9.91M306.77 812.00v8.92M296.86 820.92h9.91M316.68 812.00v8.92M306.77 820.92h9.91M326.60 812.00v8.92M316.68 820.92h9.91M336.51 812.00v8.92M326.60 820.92h9.91M346.43 812.00v8.92M336.51 820.92h9.91M356.34 812.00v8.92M346.43 820.92h9.91M366.25 812.00v8.92M356.34 820.92h9.91M376.17 812.00v8.92M366.25 820.92h9.91M386.08 812.00v8.92M376.17 820.92h9.91M396.00 812.00v8.92M386.08 820.92h9.91M405.91 812.00v8.92M396.00 820.92h9.91M415.82 812.00v8.92M405.91 820.92h9.91M425.74 812.00v8.92M415.82 820.92h9.91M435.65 812.00v8.92M425.74 820.92h9.91M445.57 812.00v8.92M435.65 820.92h9.91M455.48 812.00v8.92M445.57 820.92h9.91M465.39 812.00v8.92M455.48 820.92h9.91M465.39 820.92h9.91M267.11 820.92v8.92M257.20 829.84h9.91M277.03 820.92v8.92M267.11 829.84h9.91M286.94 820.92v8.92M277.03 829.84h9.91M296.86 820.92v8.92M286.94 829.84h9.91M306.77 820.92v8.92M296.86 829.84h9.91M316.68 820.92v8.92M306.77 829.84h9.91M326.60 820.92v8.92M316.68 829.84h9.91M336.51 820.92v8.92M326.60 829.84h9.91M346.43 820.92v8.92M336.51 829.84h9.91M356.34 820.92v8.92M346.43 829.84h9.91M366.25 820.92v8.92M356.34 829.84h9.91M376.17 820.92v8.92M366.25 829.84h9.91M386.08 820.92v8.92M376.17 829.84h9.91M396.00 820.92v8.92M386.08 829.84h9.91M405.91 820.92v8.92M396.00 829.84h9.91M415.82 820.92v8.92M405.91 829.84h9.91M425.74 820.92v8.92M415.82 829.84h9.91M435.65 820.92v8.92M425.74 829.84h9.91M445.57 820.92v8.92M435.65 829.84h9.91M455.48 820.92v8.92M445.57 829.84h9.91M465.39 820.92v8.92M455.48 829.84h9.91M465.39 829.84h9.91M267.11 829.84v8.92M257.20 838.76h9.91M277.03 829.84v8.92M267.11 838.76h9.91M286.94 829.84v8.92M277.03 838.76h9.91M296.86 829.84v8.92M286.94 838.76h9.91M306.77 829.84v8.92M296.86 838.76h9.91M316.68 829.84v8.92M306.77 838.76h9.91M326.60 829.84v8.92M316.68 838.76h9.91M336.51 829.84v8.92M326.60 838.76h9.91M346.43 829.84v8.92M336.51 838.76h9.91M356.34 829.84v8.92M346.43 838.76h9.91M366.25 829.84v8.92M356.34 838.76h9.91M376.17 829.84v8.92M366.25 838.76h9.91M386.08 829.84v8.92M376.17 838.76h9.91M396.00 829.84v8.92M386.08 838.76h9.91M405.91 829.84v8.92M396.00 838.76h9.91M415.82 829.84v8.92M405.91 838.76h9.91M425.74 829.84v8.92M415.82 838.76h9.91M435.65 829.84v8.92M425.74 838.76h9.91M445.57 829.84v8.92M435.65 838.76h9.91M455.48 829.84v8.92M445.57 838.76h9.91M465.39 829.84v8.92M455.48 838.76h9.91M465.39 838.76h9.91M267.11 838.76v8.92M257.20 847.68h9.91M277.03 838.76v8.92M267.11 847.68h9.91M286.94 838.76v8.92M277.03 847.68h9.91M296.86 838.76v8.92M286.94 847.68h9.91M306.77 838.76v8.92M296.86 847.68h9.91M316.68 838.76v8.92M306.77 847.68h9.91M326.60 838.76v8.92M316.68 847.68h9.91M336.51 838.76v8.92M326.60 847.68h9.91M346.43 838.76v8.92M336.51 847.68h9.91M356.34 838.76v8.92M346.43 847.68h9.91M366.25 838.76v8.92M356.34 847.68h9.91M376.17 838.76v8.92M366.25 847.68h9.91M386.08 838.76v8.92M376.17 847.68h9.91M396.00 838.76v8.92M386.08 847.68h9.91M405.91 838.76v8.92M396.00 847.68h9.91M415.82 838.76v8.92M405.91 847.68h9.91M425.74 838.76v8.92M415.82 847.68h9.91M435.65 838.76v8.92M425.74 847.68h9.91M445.57 838.76v8.92M435.65 847.68h9.91M455.48 838.76v8.92M445.57 847.68h9.91M465.39 838.76v8.92M455.48 847.68h9.91M465.39 847.68h9.91M267.11 847.68v8.92M257.20 856.60h9.91M277.03 847.68v8.92M267.11 856.60h9.91M286.94 847.68v8.92M277.03 856.60h9.91M296.86 847.68v8.92M286.94 856.60h9.91M306.77 847.68v8.92M296.86 856.60h9.91M316.68 847.68v8.92M306.77 856.60h9.91M326.60 847.68v8.92M316.68 856.60h9.91M336.51 847.68v8.92M326.60 856.60h9.91M346.43 847.68v8.92M336.51 856.60h9.91M356.34 847.68v8.92M346.43 856.60h9.91M366.25 847.68v8.92M356.34 856.60h9.91M376.17 847.68v8.92M366.25 856.60h9.91M386.08 847.68v8.92M376.17 856.60h9.91M396.00 847.68v8.92M386.08 856.60h9.91M405.91 847.68v8.92M396.00 856.60h9.91M415.82 847.68v8.92M405.91 856.60h9.91M425.74 847.68v8.92M415.82 856.60h9.91M435.65 847.68v8.92M425.74 856.60h9.91M445.57 847.68v8.92M435.65 856.60h9.91M455.48 847.68v8.92M445.57 856.60h9.91M465.39 847.68v8.92M455.48 856.60h9.91M465.39 856.60h9.91M267.11 856.60v8.92M257.20 865.52h9.91M277.03 856.60v8.92M267.11 865.52h9.91M286.94 856.60v8.92M277.03 865.52h9.91M296.86 856.60v8.92M286.94 865.52h9.91M306.77 856.60v8.92M296.86 865.52h9.91M316.68 856.60v8.92M306.77 865.52h9.91M326.60 856.60v8.92M316.68 865.52h9.91M336.51 856.60v8.92M326.60 865.52h9.91M346.43 856.60v8.92M336.51 865.52h9.91M356.34 856.60v8.92M346.43 865.52h9.91M366.25 856.60v8.92M356.34 865.52h9.91M376.17 856.60v8.92M366.25 865.52h9.91M386.08 856.60v8.92M376.17 865.52h9.91M396.00 856.60v8.92M386.08 865.52h9.91M405.91 856.60v8.92M396.00 865.52h9.91M415.82 856.60v8.92M405.91 865.52h9.91M425.74 856.60v8.92M415.82 865.52h9.91M435.65 856.60v8.92M425.74 865.52h9.91M445.57 856.60v8.92M435.65 865.52h9.91M455.48 856.60v8.92M445.57 865.52h9.91M465.39 856.60v8.92M455.48 865.52h9.91M465.39 865.52h9.91M267.11 865.52v8.92M257.20 874.44h9.91M277.03 865.52v8.92M267.11 874.44h9.91M286.94 865.52v8.92M277.03 874.44h9.91M296.86 865.52v8.92M286.94 874.44h9.91M306.77 865.52v8.92M296.86 874.44h9.91M316.68 865.52v8.92M306.77 874.44h9.91M326.60 865.52v8.92M316.68 874.44h9.91M336.51 865.52v8.92M326.60 874.44h9.91M346.43 865.52v8.92M336.51 874.44h9.91M356.34 865.52v8.92M346.43 874.44h9.91M366.25 865.52v8.92M356.34 874.44h9.91M376.17 865.52v8.92M366.25 874.44h9.91M386.08 865.52v8.92M376.17 874.44h9.91M396.00 865.52v8.92M386.08 874.44h9.91M405.91 865.52v8.92M396.00 874.44h9.91M415.82 865.52v8.92M405.91 874.44h9.91M425.74 865.52v8.92M415.82 874.44h9.91M435.65 865.52v8.92M425.74 874.44h9.91M445.57 865.52v8.92M435.65 874.44h9.91M455.48 865.52v8.92M445.57 874.44h9.91M465.39 865.52v8.92M455.48 874.44h9.91M465.39 874.44h9.91M267.11 874.44v8.92M257.20 883.36h9.91M277.03 874.44v8.92M267.11 883.36h9.91M286.94 874.44v8.92M277.03 883.36h9.91M296.86 874.44v8.92M286.94 883.36h9.91M306.77 874.44v8.92M296.86 883.36h9.91M316.68 874.44v8.92M306.77 883.36h9.91M326.60 874.44v8.92M316.68 883.36h9.91M336.51 874.44v8.92M326.60 883.36h9.91M346.43 874.44v8.92M336.51 883.36h9.91M356.34 874.44v8.92M346.43 883.36h9.91M366.25 874.44v8.92M356.34 883.36h9.91M376.17 874.44v8.92M366.25 883.36h9.91M386.08 874.44v8.92M376.17 883.36h9.91M396.00 874.44v8.92M386.08 883.36h9.91M405.91 874.44v8.92M396.00 883.36h9.91M415.82 874.44v8.92M405.91 883.36h9.91M425.74 874.44v8.92M415.82 883.36h9.91M435.65 874.44v8.92M425.74 883.36h9.91M445.57 874.44v8.92M435.65 883.36h9.91M455.48 874.44v8.92M445.57 883.36h9.91M465.39 874.44v8.92M455.48 883.36h9.91M465.39 883.36h9.91M267.11 883.36v8.92M277.03 883.36v8.92M267.11 892.28h9.91M286.94 883.36v8.92M277.03 892.28h9.91M296.86 883.36v8.92M286.94 892.28h9.91M306.77 883.36v8.92M296.86 892.28h9.91M316.68 883.36v8.92M306.77 892.28h9.91M326.60 883.36v8.92M316.68 892.28h9.91M336.51 883.36v8.92M326.60 892.28h9.91M346.43 883.36v8.92M336.51 892.28h9.91M356.34 883.36v8.92M346.43 892.28h9.91M366.25 883.36v8.92M356.34 892.28h9.91M376.17 883.36v8.92M366.25 892.28h9.91M386.08 883.36v8.92M376.17 892.28h9.91M396.00 883.36v8.92M386.08 892.28h9.91M405.91 883.36v8.92M396.00 892.28h9.91M415.82 883.36v8.92M405.91 892.28h9.91M425.74 883.36v8.92M415.82 892.28h9.91M435.65 883.36v8.92M425.74 892.28h9.91M445.57 883.36v8.92M435.65 892.28h9.91M455.48 883.36v8.92M445.57 892.28h9.91M465.39 883.36v8.92M455.48 892.28h9.91M465.39 892.28h9.91M277.03 892.28v8.92M286.94 892.28v8.92M277.03 901.20h9.91M296.86 892.28v8.92M286.94 901.20h9.91M306.77 892.28v8.92M296.86 901.20h9.91M316.68 892.28v8.92M306.77 901.20h9.91M326.60 892.28v8.92M316.68 901.20h9.91M336.51 892.28v8.92M326.60 901.20h9.91M346.43 892.28v8.92M336.51 901.20h9.91M356.34 892.28v8.92M346.43 901.20h9.91M366.25 892.28v8.92M356.34 901.20h9.91M376.17 892.28v8.92M366.25 901.20h9.91M386.08 892.28v8.92M376.17 901.20h9.91M396.00 892.28v8.92M386.08 901.20h9.91M405.91 892.28v8.92M396.00 901.20h9.91M415.82 892.28v8.92M405.91 901.20h9.91M425.74 892.28v8.92M415.82 901.20h9.91M435.65 892.28v8.92M425.74 901.20h9.91M445.57 892.28v8.92M435.65 901.20h9.91M455.48 892.28v8.92M445.57 901.20h9.91M465.39 892.28v8.92M455.48 901.20h9.91M465.39 901.20h9.91M286.94 901.20v8.92M277.03 910.12h9.91M296.86 901.20v8.92M286.94 910.12h9.91M306.77 901.20v8.92M296.86 910.12h9.91M316.68 901.20v8.92M306.77 910.12h9.91M326.60 901.20v8.92M316.68 910.12h9.91M336.51 901.20v8.92M326.60 910.12h9.91M346.43 901.20v8.92M336.51 910.12h9.91M356.34 901.20v8.92M346.43 910.12h9.91M366.25 901.20v8.92M356.34 910.12h9.91M376.17 901.20v8.92M366.25 910.12h9.91M386.08 901.20v8.92M376.17 910.12h9.91M396.00 901.20v8.92M386.08 910.12h9.91M405.91 901.20v8.92M396.00 910.12h9.91M415.82 901.20v8.92M405.91 910.12h9.91M425.74 901.20v8.92M415.82 910.12h9.91M435.65 901.20v8.92M425.74 910.12h9.91M445.57 901.20v8.92M435.65 910.12h9.91M455.48 901.20v8.92M445.57 910.12h9.91M465.39 901.20v8.92M455.48 910.12h9.91M286.94 910.12v8.92M277.03 919.04h9.91M296.86 910.12v8.92M286.94 919.04h9.91M306.77 910.12v8.92M296.86 919.04h9.91M316.68 910.12v8.92M306.77 919.04h9.91M326.60 910.12v8.92M316.68 919.04h9.91M336.51 910.12v8.92M326.60 919.04h9.91M346.43 910.12v8.92M336.51 919.04h9.91M356.34 910.12v8.92M346.43 919.04h9.91M366.25 910.12v8.92M356.34 919.04h9.91M376.17 910.12v8.92M366.25 919.04h9.91M386.08 910.12v8.92M376.17 919.04h9.91M396.00 910.12v8.92M386.08 919.04h9.91M405.91 910.12v8.92M396.00 919.04h9.91M415.82 910.12v8.92M405.91 919.04h9.91M425.74 910.12v8.92M415.82 919.04h9.91M435.65 910.12v8.92M425.74 919.04h9.91M445.57 910.12v8.92M435.65 919.04h9.91M455.48 910.12v8.92M445.57 919.04h9.91M286.94 919.04v8.92M296.86 919.04v8.92M286.94 927.96h9.91M306.77 919.04v8.92M296.86 927.96h9.91M316.68 919.04v8.92M306.77 927.96h9.91M326.60 919.04v8.92M316.68 927.96h9.91M336.51 919.04v8.92M326.60 927.96h9.91M346.43 919.04v8.92M336.51 927.96h9.91M356.34 919.04v8.92M346.43 927.96h9.91M366.25 919.04v8.92M356.34 927.96h9.91M376.17 919.04v8.92M366.25 927.96h9.91M386.08 919.04v8.92M376.17 927.96h9.91M396.00 919.04v8.92M386.08 927.96h9.91M405.91 919.04v8.92M396.00 927.96h9.91M415.82 919.04v8.92M405.91 927.96h9.91M425.74 919.04v8.92M415.82 927.96h9.91M435.65 919.04v8.92M425.74 927.96h9.91M445.57 919.04v8.92M435.65 927.96h9.91M445.57 927.96h9.91M296.86 927.96v8.92M306.77 927.96v8.92M296.86 936.88h9.91M316.68 927.96v8.92M306.77 936.88h9.91M326.60 927.96v8.92M316.68 936.88h9.91M336.51 927.96v8.92M326.60 936.88h9.91M346.43 927.96v8.92M336.51 936.88h9.91M356.34 927.96v8.92M346.43 936.88h9.91M366.25 927.96v8.92M356.34 936.88h9.91M376.17 927.96v8.92M366.25 936.88h9.91M386.08 927.96v8.92M376.17 936.88h9.91M396.00 927.96v8.92M386.08 936.88h9.91M405.91 927.96v8.92M396.00 936.88h9.91M415.82 927.96v8.92M405.91 936.88h9.91M425.74 927.96v8.92M415.82 936.88h9.91M435.65 927.96v8.92M425.74 936.88h9.91M445.57 927.96v8.92M435.65 936.88h9.91M445.57 936.88h9.91M306.77 936.88v8.92M316.68 936.88v8.92M306.77 945.80h9.91M326.60 936.88v8.92M316.68 945.80h9.91M336.51 936.88v8.92M326.60 945.80h9.91M346.43 936.88v8.92M336.51 945.80h9.91M356.34 936.88v8.92M346.43 945.80h9.91M366.25 936.88v8.92M356.34 945.80h9.91M376.17 936.88v8.92M366.25 945.80h9.91M386.08 936.88v8.92M376.17 945.80h9.91M396.00 936.88v8.92M386.08 945.80h9.91M405.91 936.88v8.92M396.00 945.80h9.91M415.82 936.88v8.92M405.91 945.80h9.91M425.74 936.88v8.92M415.82 945.80h9.91M435.65 936.88v8.92M425.74 945.80h9.91M445.57 936.88v8.92M435.65 945.80h9.91M445.57 945.80h9.91M316.68 945.80v8.92M326.60 945.80v8.92M316.68 954.72h9.91M336.51 945.80v8.92M326.60 954.72h9.91M346.43 945.80v8.92M336.51 954.72h9.91M356.34 945.80v8.92M346.43 954.72h9.91M366.25 945.80v8.92M356.34 954.72h9.91M376.17 945.80v8.92M366.25 954.72h9.91M386.08 945.80v8.92M376.17 954.72h9.91M396.00 945.80v8.92M386.08 954.72h9.91M405.91 945.80v8.92M396.00 954.72h9.91M415.82 945.80v8.92M405.91 954.72h9.91M425.74 945.80v8.92M415.82 954.72h9.91M435.65 945.80v8.92M425.74 954.72h9.91M445.57 945.80v8.92M435.65 954.72h9.91M445.57 954.72h9.91M326.60 954.72v8.92M336.51 954.72v8.92M346.43 954.72v8.92M356.34 954.72v8.92M366.25 954.72v8.92M376.17 954.72v8.92M386.08 954.72v8.92M396.00 954.72v8.92M405.91 954.72v8.92M415.82 954.72v8.92M425.74 954.72v8.92M435.65 954.72v8.92M445.57 954.72v8.92" stroke="#d0d4f0" stroke-opacity="0.13" stroke-width="0.7" fill="none"/>
<rect x="160.8" y="666.4" width="367.20" height="334.90" fill="none" stroke="#505050" stroke-width="2"/>
<path d="M222.00 666.4v5M222.00 1001.3v-5M160.8 722.22h5M528.0 722.22h-5M283.20 666.4v5M283.20 1001.3v-5M160.8 778.03h5M528.0 778.03h-5M344.40 666.4v5M344.40 1001.3v-5M160.8 833.85h5M528.0 833.85h-5M405.60 666.4v5M405.60 1001.3v-5M160.8 889.67h5M528.0 889.67h-5M466.80 666.4v5M466.80 1001.3v-5M160.8 945.48h5M528.0 945.48h-5" stroke="#505050" stroke-width="1.6" fill="none"/>
</g>
<g id="plotd">
<rect x="820.96" y="695.20" width="12.17" height="11.29" fill="#96c670"/>
<rect x="832.83" y="695.20" width="12.17" height="11.29" fill="#88c48c"/>
<rect x="844.69" y="695.20" width="35.90" height="11.29" fill="#7cc4a8"/>
<rect x="880.29" y="695.20" width="12.17" height="11.29" fill="#70c4bc"/>
<rect x="892.16" y="695.20" width="12.17" height="11.29" fill="#40b8e8"/>
<rect x="820.96" y="706.19" width="12.17" height="11.29" fill="#96c670"/>
<rect x="832.83" y="706.19" width="12.17" height="11.29" fill="#88c48c"/>
<rect x="844.69" y="706.19" width="24.03" height="11.29" fill="#7cc4a8"/>
<rect x="868.43" y="706.19" width="12.17" height="11.29" fill="#88c48c"/>
<rect x="880.29" y="706.19" width="12.17" height="11.29" fill="#70c4bc"/>
<rect x="892.16" y="706.19" width="12.17" height="11.29" fill="#88c48c"/>
<rect x="904.02" y="706.19" width="24.03" height="11.29" fill="#96c670"/>
<rect x="737.90" y="717.17" width="12.17" height="11.29" fill="#64c2d4"/>
<rect x="749.77" y="717.17" width="59.63" height="11.29" fill="#88c48c"/>
<rect x="809.10" y="717.17" width="12.17" height="11.29" fill="#96c670"/>
<rect x="820.96" y="717.17" width="24.03" height="11.29" fill="#88c48c"/>
<rect x="844.69" y="717.17" width="24.03" height="11.29" fill="#7cc4a8"/>
<rect x="868.43" y="717.17" width="12.17" height="11.29" fill="#88c48c"/>
<rect x="880.29" y="717.17" width="12.17" height="11.29" fill="#7cc4a8"/>
<rect x="892.16" y="717.17" width="24.03" height="11.29" fill="#88c48c"/>
<rect x="915.89" y="717.17" width="24.03" height="11.29" fill="#96c670"/>
<rect x="737.90" y="728.16" width="71.50" height="11.29" fill="#88c48c"/>
<rect x="809.10" y="728.16" width="24.03" height="11.29" fill="#96c670"/>
<rect x="832.83" y="728.16" width="35.90" height="11.29" fill="#88c48c"/>
<rect x="868.43" y="728.16" width="24.03" height="11.29" fill="#7cc4a8"/>
<rect x="892.16" y="728.16" width="12.17" height="11.29" fill="#88c48c"/>
<rect x="904.02" y="728.16" width="24.03" height="11.29" fill="#96c670"/>
<rect x="927.76" y="728.16" width="12.17" height="11.29" fill="#b4cc38"/>
<rect x="939.62" y="728.16" width="12.17" height="11.29" fill="#f07820"/>
<rect x="737.90" y="739.14" width="83.36" height="11.29" fill="#88c48c"/>
<rect x="820.96" y="739.14" width="24.03" height="11.29" fill="#96c670"/>
<rect x="844.69" y="739.14" width="47.76" height="11.29" fill="#88c48c"/>
<rect x="892.16" y="739.14" width="12.17" height="11.29" fill="#96c670"/>
<rect x="904.02" y="739.14" width="12.17" height="11.29" fill="#a4c850"/>
<rect x="915.89" y="739.14" width="12.17" height="11.29" fill="#c8d418"/>
<rect x="927.76" y="739.14" width="12.17" height="11.29" fill="#f8e020"/>
<rect x="939.62" y="739.14" width="12.17" height="11.29" fill="#e84820"/>
<rect x="737.90" y="750.12" width="12.17" height="11.29" fill="#88c48c"/>
<rect x="749.77" y="750.12" width="12.17" height="11.29" fill="#7cc4a8"/>
<rect x="761.63" y="750.12" width="24.03" height="11.29" fill="#88c48c"/>
<rect x="785.36" y="750.12" width="12.17" height="11.29" fill="#7cc4a8"/>
<rect x="797.23" y="750.12" width="12.17" height="11.29" fill="#88c48c"/>
<rect x="809.10" y="750.12" width="12.17" height="11.29" fill="#7cc4a8"/>
<rect x="820.96" y="750.12" width="59.63" height="11.29" fill="#88c48c"/>
<rect x="880.29" y="750.12" width="12.17" height="11.29" fill="#96c670"/>
<rect x="892.16" y="750.12" width="12.17" height="11.29" fill="#a4c850"/>
<rect x="904.02" y="750.12" width="12.17" height="11.29" fill="#c8d418"/>
<rect x="915.89" y="750.12" width="12.17" height="11.29" fill="#f8e020"/>
<rect x="927.76" y="750.12" width="24.03" height="11.29" fill="#f8b020"/>
<rect x="737.90" y="761.11" width="59.63" height="11.29" fill="#88c48c"/>
<rect x="797.23" y="761.11" width="47.76" height="11.29" fill="#96c670"/>
<rect x="844.69" y="761.11" width="35.90" height="11.29" fill="#88c48c"/>
<rect x="880.29" y="761.11" width="12.17" height="11.29" fill="#96c670"/>
<rect x="892.16" y="761.11" width="12.17" height="11.29" fill="#a4c850"/>
<rect x="904.02" y="761.11" width="12.17" height="11.29" fill="#c8d418"/>
<rect x="915.89" y="761.11" width="12.17" height="11.29" fill="#d8d810"/>
<rect x="927.76" y="761.11" width="35.90" height="11.29" fill="#f8b020"/>
<rect x="737.90" y="772.10" width="12.17" height="11.29" fill="#f8e020"/>
<rect x="749.77" y="772.10" width="35.90" height="11.29" fill="#a4c850"/>
<rect x="785.36" y="772.10" width="35.90" height="11.29" fill="#96c670"/>
<rect x="820.96" y="772.10" width="35.90" height="11.29" fill="#a4c850"/>
<rect x="856.56" y="772.10" width="35.90" height="11.29" fill="#96c670"/>
<rect x="892.16" y="772.10" width="12.17" height="11.29" fill="#a4c850"/>
<rect x="904.02" y="772.10" width="12.17" height="11.29" fill="#b4cc38"/>
<rect x="915.89" y="772.10" width="12.17" height="11.29" fill="#d8d810"/>
<rect x="927.76" y="772.10" width="24.03" height="11.29" fill="#f8e020"/>
<rect x="951.49" y="772.10" width="12.17" height="11.29" fill="#d8d810"/>
<rect x="737.90" y="783.08" width="12.17" height="11.29" fill="#f8e020"/>
<rect x="749.77" y="783.08" width="12.17" height="11.29" fill="#b4cc38"/>
<rect x="761.63" y="783.08" width="35.90" height="11.29" fill="#a4c850"/>
<rect x="797.23" y="783.08" width="24.03" height="11.29" fill="#96c670"/>
<rect x="820.96" y="783.08" width="35.90" height="11.29" fill="#a4c850"/>
<rect x="856.56" y="783.08" width="24.03" height="11.29" fill="#96c670"/>
<rect x="880.29" y="783.08" width="24.03" height="11.29" fill="#a4c850"/>
<rect x="904.02" y="783.08" width="12.17" height="11.29" fill="#b4cc38"/>
<rect x="915.89" y="783.08" width="35.90" height="11.29" fill="#d8d810"/>
<rect x="951.49" y="783.08" width="12.17" height="11.29" fill="#f8e020"/>
<rect x="963.35" y="783.08" width="12.17" height="11.29" fill="#96c670"/>
<rect x="737.90" y="794.07" width="12.17" height="11.29" fill="#d8d810"/>
<rect x="749.77" y="794.07" width="35.90" height="11.29" fill="#c8d418"/>
<rect x="785.36" y="794.07" width="12.17" height="11.29" fill="#b4cc38"/>
<rect x="797.23" y="794.07" width="59.63" height="11.29" fill="#a4c850"/>
<rect x="856.56" y="794.07" width="35.90" height="11.29" fill="#96c670"/>
<rect x="892.16" y="794.07" width="12.17" height="11.29" fill="#a4c850"/>
<rect x="904.02" y="794.07" width="24.03" height="11.29" fill="#c8d418"/>
<rect x="927.76" y="794.07" width="24.03" height="11.29" fill="#d8d810"/>
<rect x="951.49" y="794.07" width="12.17" height="11.29" fill="#f8e020"/>
<rect x="963.35" y="794.07" width="12.17" height="11.29" fill="#b4cc38"/>
<rect x="737.90" y="805.05" width="12.17" height="11.29" fill="#96c670"/>
<rect x="749.77" y="805.05" width="154.56" height="11.29" fill="#a4c850"/>
<rect x="904.02" y="805.05" width="35.90" height="11.29" fill="#b4cc38"/>
<rect x="939.62" y="805.05" width="35.90" height="11.29" fill="#c8d418"/>
<rect x="737.90" y="816.04" width="24.03" height="11.29" fill="#96c670"/>
<rect x="761.63" y="816.04" width="130.83" height="11.29" fill="#a4c850"/>
<rect x="892.16" y="816.04" width="12.17" height="11.29" fill="#96c670"/>
<rect x="904.02" y="816.04" width="47.76" height="11.29" fill="#a4c850"/>
<rect x="951.49" y="816.04" width="12.17" height="11.29" fill="#b4cc38"/>
<rect x="963.35" y="816.04" width="12.17" height="11.29" fill="#a4c850"/>
<rect x="737.90" y="827.02" width="12.17" height="11.29" fill="#7cc4a8"/>
<rect x="749.77" y="827.02" width="12.17" height="11.29" fill="#70c4bc"/>
<rect x="761.63" y="827.02" width="12.17" height="11.29" fill="#7cc4a8"/>
<rect x="773.50" y="827.02" width="12.17" height="11.29" fill="#96c670"/>
<rect x="785.36" y="827.02" width="24.03" height="11.29" fill="#a4c850"/>
<rect x="809.10" y="827.02" width="47.76" height="11.29" fill="#96c670"/>
<rect x="868.43" y="827.02" width="12.17" height="11.29" fill="#96c670"/>
<rect x="880.29" y="827.02" width="12.17" height="11.29" fill="#a4c850"/>
<rect x="892.16" y="827.02" width="83.36" height="11.29" fill="#96c670"/>
<rect x="975.22" y="827.02" width="12.17" height="11.29" fill="#64c2d4"/>
<rect x="761.63" y="838.01" width="12.17" height="11.29" fill="#96c670"/>
<rect x="773.50" y="838.01" width="24.03" height="11.29" fill="#b4cc38"/>
<rect x="797.23" y="838.01" width="12.17" height="11.29" fill="#a4c850"/>
<rect x="809.10" y="838.01" width="35.90" height="11.29" fill="#96c670"/>
<rect x="844.69" y="838.01" width="24.03" height="11.29" fill="#88c48c"/>
<rect x="868.43" y="838.01" width="24.03" height="11.29" fill="#96c670"/>
<rect x="892.16" y="838.01" width="12.17" height="11.29" fill="#88c48c"/>
<rect x="904.02" y="838.01" width="47.76" height="11.29" fill="#7cc4a8"/>
<rect x="951.49" y="838.01" width="12.17" height="11.29" fill="#88c48c"/>
<rect x="963.35" y="838.01" width="12.17" height="11.29" fill="#d8d810"/>
<rect x="975.22" y="838.01" width="12.17" height="11.29" fill="#b4cc38"/>
<rect x="761.63" y="848.99" width="12.17" height="11.29" fill="#a4c850"/>
<rect x="773.50" y="848.99" width="24.03" height="11.29" fill="#b4cc38"/>
<rect x="797.23" y="848.99" width="24.03" height="11.29" fill="#a4c850"/>
<rect x="820.96" y="848.99" width="71.50" height="11.29" fill="#96c670"/>
<rect x="892.16" y="848.99" width="12.17" height="11.29" fill="#88c48c"/>
<rect x="904.02" y="848.99" width="12.17" height="11.29" fill="#7cc4a8"/>
<rect x="915.89" y="848.99" width="12.17" height="11.29" fill="#70c4bc"/>
<rect x="927.76" y="848.99" width="35.90" height="11.29" fill="#64c2d4"/>
<rect x="773.50" y="859.98" width="12.17" height="11.29" fill="#b4cc38"/>
<rect x="785.36" y="859.98" width="12.17" height="11.29" fill="#c8d418"/>
<rect x="797.23" y="859.98" width="12.17" height="11.29" fill="#b4cc38"/>
<rect x="809.10" y="859.98" width="35.90" height="11.29" fill="#a4c850"/>
<rect x="844.69" y="859.98" width="35.90" height="11.29" fill="#96c670"/>
<rect x="880.29" y="859.98" width="24.03" height="11.29" fill="#88c48c"/>
<rect x="904.02" y="859.98" width="12.17" height="11.29" fill="#7cc4a8"/>
<rect x="915.89" y="859.98" width="12.17" height="11.29" fill="#70c4bc"/>
<rect x="927.76" y="859.98" width="24.03" height="11.29" fill="#64c2d4"/>
<rect x="951.49" y="859.98" width="12.17" height="11.29" fill="#40b8e8"/>
<rect x="773.50" y="870.96" width="24.03" height="11.29" fill="#c8d418"/>
<rect x="797.23" y="870.96" width="12.17" height="11.29" fill="#b4cc38"/>
<rect x="809.10" y="870.96" width="24.03" height="11.29" fill="#a4c850"/>
<rect x="832.83" y="870.96" width="47.76" height="11.29" fill="#96c670"/>
<rect x="880.29" y="870.96" width="12.17" height="11.29" fill="#88c48c"/>
<rect x="892.16" y="870.96" width="12.17" height="11.29" fill="#7cc4a8"/>
<rect x="904.02" y="870.96" width="12.17" height="11.29" fill="#70c4bc"/>
<rect x="915.89" y="870.96" width="24.03" height="11.29" fill="#64c2d4"/>
<rect x="939.62" y="870.96" width="12.17" height="11.29" fill="#70c4bc"/>
<rect x="773.50" y="881.95" width="24.03" height="11.29" fill="#d8d810"/>
<rect x="797.23" y="881.95" width="12.17" height="11.29" fill="#c8d418"/>
<rect x="809.10" y="881.95" width="24.03" height="11.29" fill="#b4cc38"/>
<rect x="832.83" y="881.95" width="12.17" height="11.29" fill="#a4c850"/>
<rect x="844.69" y="881.95" width="12.17" height="11.29" fill="#96c670"/>
<rect x="856.56" y="881.95" width="12.17" height="11.29" fill="#a4c850"/>
<rect x="868.43" y="881.95" width="24.03" height="11.29" fill="#96c670"/>
<rect x="892.16" y="881.95" width="12.17" height="11.29" fill="#70c4bc"/>
<rect x="904.02" y="881.95" width="12.17" height="11.29" fill="#64c2d4"/>
<rect x="915.89" y="881.95" width="12.17" height="11.29" fill="#40b8e8"/>
<rect x="927.76" y="881.95" width="12.17" height="11.29" fill="#7cc4a8"/>
<rect x="773.50" y="892.93" width="12.17" height="11.29" fill="#f8e020"/>
<rect x="785.36" y="892.93" width="12.17" height="11.29" fill="#d8d810"/>
<rect x="797.23" y="892.93" width="24.03" height="11.29" fill="#c8d418"/>
<rect x="820.96" y="892.93" width="12.17" height="11.29" fill="#b4cc38"/>
<rect x="832.83" y="892.93" width="12.17" height="11.29" fill="#a4c850"/>
<rect x="844.69" y="892.93" width="12.17" height="11.29" fill="#96c670"/>
<rect x="856.56" y="892.93" width="12.17" height="11.29" fill="#a4c850"/>
<rect x="868.43" y="892.93" width="24.03" height="11.29" fill="#96c670"/>
<rect x="892.16" y="892.93" width="12.17" height="11.29" fill="#70c4bc"/>
<rect x="904.02" y="892.93" width="12.17" height="11.29" fill="#64c2d4"/>
<rect x="915.89" y="892.93" width="12.17" height="11.29" fill="#40b8e8"/>
<rect x="785.36" y="903.91" width="35.90" height="11.29" fill="#c8d418"/>
<rect x="820.96" y="903.91" width="12.17" height="11.29" fill="#b4cc38"/>
<rect x="832.83" y="903.91" width="12.17" height="11.29" fill="#a4c850"/>
<rect x="844.69" y="903.91" width="47.76" height="11.29" fill="#96c670"/>
<rect x="892.16" y="903.91" width="12.17" height="11.29" fill="#7cc4a8"/>
<rect x="904.02" y="903.91" width="12.17" height="11.29" fill="#96c670"/>
<rect x="785.36" y="914.90" width="24.03" height="11.29" fill="#d8d810"/>
<rect x="809.10" y="914.90" width="12.17" height="11.29" fill="#c8d418"/>
<rect x="820.96" y="914.90" width="12.17" height="11.29" fill="#a4c850"/>
<rect x="832.83" y="914.90" width="24.03" height="11.29" fill="#96c670"/>
<rect x="856.56" y="914.90" width="24.03" height="11.29" fill="#a4c850"/>
<rect x="880.29" y="914.90" width="12.17" height="11.29" fill="#96c670"/>
<rect x="892.16" y="914.90" width="12.17" height="11.29" fill="#7cc4a8"/>
<rect x="904.02" y="914.90" width="12.17" height="11.29" fill="#96c670"/>
<rect x="797.23" y="925.88" width="12.17" height="11.29" fill="#f8e020"/>
<rect x="809.10" y="925.88" width="12.17" height="11.29" fill="#d8d810"/>
<rect x="820.96" y="925.88" width="12.17" height="11.29" fill="#a4c850"/>
<rect x="832.83" y="925.88" width="24.03" height="11.29" fill="#96c670"/>
<rect x="856.56" y="925.88" width="12.17" height="11.29" fill="#b4cc38"/>
<rect x="868.43" y="925.88" width="24.03" height="11.29" fill="#a4c850"/>
<rect x="892.16" y="925.88" width="12.17" height="11.29" fill="#40b8e8"/>
<rect x="809.10" y="936.87" width="12.17" height="11.29" fill="#d8d810"/>
<rect x="820.96" y="936.87" width="24.03" height="11.29" fill="#a4c850"/>
<rect x="844.69" y="936.87" width="12.17" height="11.29" fill="#b4cc38"/>
<rect x="856.56" y="936.87" width="12.17" height="11.29" fill="#c8d418"/>
<path d="M832.83 695.20v10.98M820.96 706.19h11.87M844.69 695.20v10.98M832.83 706.19h11.87M856.56 695.20v10.98M844.69 706.19h11.87M868.43 695.20v10.98M856.56 706.19h11.87M880.29 695.20v10.98M868.43 706.19h11.87M892.16 695.20v10.98M880.29 706.19h11.87M892.16 706.19h11.87M832.83 706.19v10.98M820.96 717.17h11.87M844.69 706.19v10.98M832.83 717.17h11.87M856.56 706.19v10.98M844.69 717.17h11.87M868.43 706.19v10.98M856.56 717.17h11.87M880.29 706.19v10.98M868.43 717.17h11.87M892.16 706.19v10.98M880.29 717.17h11.87M904.02 706.19v10.98M892.16 717.17h11.87M915.89 706.19v10.98M904.02 717.17h11.87M915.89 717.17h11.87M749.77 717.17v10.98M737.90 728.16h11.87M761.63 717.17v10.98M749.77 728.16h11.87M773.50 717.17v10.98M761.63 728.16h11.87M785.36 717.17v10.98M773.50 728.16h11.87M797.23 717.17v10.98M785.36 728.16h11.87M809.10 717.17v10.98M797.23 728.16h11.87M820.96 717.17v10.98M809.10 728.16h11.87M832.83 717.17v10.98M820.96 728.16h11.87M844.69 717.17v10.98M832.83 728.16h11.87M856.56 717.17v10.98M844.69 728.16h11.87M868.43 717.17v10.98M856.56 728.16h11.87M880.29 717.17v10.98M868.43 728.16h11.87M892.16 717.17v10.98M880.29 728.16h11.87M904.02 717.17v10.98M892.16 728.16h11.87M915.89 717.17v10.98M904.02 728.16h11.87M927.76 717.17v10.98M915.89 728.16h11.87M927.76 728.16h11.87M749.77 728.16v10.98M737.90 739.14h11.87M761.63 728.16v10.98M749.77 739.14h11.87M773.50 728.16v10.98M761.63 739.14h11.87M785.36 728.16v10.98M773.50 739.14h11.87M797.23 728.16v10.98M785.36 739.14h11.87M809.10 728.16v10.98M797.23 739.14h11.87M820.96 728.16v10.98M809.10 739.14h11.87M832.83 728.16v10.98M820.96 739.14h11.87M844.69 728.16v10.98M832.83 739.14h11.87M856.56 728.16v10.98M844.69 739.14h11.87M868.43 728.16v10.98M856.56 739.14h11.87M880.29 728.16v10.98M868.43 739.14h11.87M892.16 728.16v10.98M880.29 739.14h11.87M904.02 728.16v10.98M892.16 739.14h11.87M915.89 728.16v10.98M904.02 739.14h11.87M927.76 728.16v10.98M915.89 739.14h11.87M939.62 728.16v10.98M927.76 739.14h11.87M939.62 739.14h11.87M749.77 739.14v10.98M737.90 750.13h11.87M761.63 739.14v10.98M749.77 750.13h11.87M773.50 739.14v10.98M761.63 750.13h11.87M785.36 739.14v10.98M773.50 750.13h11.87M797.23 739.14v10.98M785.36 750.13h11.87M809.10 739.14v10.98M797.23 750.13h11.87M820.96 739.14v10.98M809.10 750.13h11.87M832.83 739.14v10.98M820.96 750.13h11.87M844.69 739.14v10.98M832.83 750.13h11.87M856.56 739.14v10.98M844.69 750.13h11.87M868.43 739.14v10.98M856.56 750.13h11.87M880.29 739.14v10.98M868.43 750.13h11.87M892.16 739.14v10.98M880.29 750.13h11.87M904.02 739.14v10.98M892.16 750.13h11.87M915.89 739.14v10.98M904.02 750.13h11.87M927.76 739.14v10.98M915.89 750.13h11.87M939.62 739.14v10.98M927.76 750.13h11.87M939.62 750.13h11.87M749.77 750.12v10.98M737.90 761.11h11.87M761.63 750.12v10.98M749.77 761.11h11.87M773.50 750.12v10.98M761.63 761.11h11.87M785.36 750.12v10.98M773.50 761.11h11.87M797.23 750.12v10.98M785.36 761.11h11.87M809.10 750.12v10.98M797.23 761.11h11.87M820.96 750.12v10.98M809.10 761.11h11.87M832.83 750.12v10.98M820.96 761.11h11.87M844.69 750.12v10.98M832.83 761.11h11.87M856.56 750.12v10.98M844.69 761.11h11.87M868.43 750.12v10.98M856.56 761.11h11.87M880.29 750.12v10.98M868.43 761.11h11.87M892.16 750.12v10.98M880.29 761.11h11.87M904.02 750.12v10.98M892.16 761.11h11.87M915.89 750.12v10.98M904.02 761.11h11.87M927.76 750.12v10.98M915.89 761.11h11.87M939.62 750.12v10.98M927.76 761.11h11.87M939.62 761.11h11.87M749.77 761.11v10.98M737.90 772.10h11.87M761.63 761.11v10.98M749.77 772.10h11.87M773.50 761.11v10.98M761.63 772.10h11.87M785.36 761.11v10.98M773.50 772.10h11.87M797.23 761.11v10.98M785.36 772.10h11.87M809.10 761.11v10.98M797.23 772.10h11.87M820.96 761.11v10.98M809.10 772.10h11.87M832.83 761.11v10.98M820.96 772.10h11.87M844.69 761.11v10.98M832.83 772.10h11.87M856.56 761.11v10.98M844.69 772.10h11.87M868.43 761.11v10.98M856.56 772.10h11.87M880.29 761.11v10.98M868.43 772.10h11.87M892.16 761.11v10.98M880.29 772.10h11.87M904.02 761.11v10.98M892.16 772.10h11.87M915.89 761.11v10.98M904.02 772.10h11.87M927.76 761.11v10.98M915.89 772.10h11.87M939.62 761.11v10.98M927.76 772.10h11.87M951.49 761.11v10.98M939.62 772.10h11.87M951.49 772.10h11.87M749.77 772.10v10.98M737.90 783.08h11.87M761.63 772.10v10.98M749.77 783.08h11.87M773.50 772.10v10.98M761.63 783.08h11.87M785.36 772.10v10.98M773.50 783.08h11.87M797.23 772.10v10.98M785.36 783.08h11.87M809.10 772.10v10.98M797.23 783.08h11.87M820.96 772.10v10.98M809.10 783.08h11.87M832.83 772.10v10.98M820.96 783.08h11.87M844.69 772.10v10.98M832.83 783.08h11.87M856.56 772.10v10.98M844.69 783.08h11.87M868.43 772.10v10.98M856.56 783.08h11.87M880.29 772.10v10.98M868.43 783.08h11.87M892.16 772.10v10.98M880.29 783.08h11.87M904.02 772.10v10.98M892.16 783.08h11.87M915.89 772.10v10.98M904.02 783.08h11.87M927.76 772.10v10.98M915.89 783.08h11.87M939.62 772.10v10.98M927.76 783.08h11.87M951.49 772.10v10.98M939.62 783.08h11.87M951.49 783.08h11.87M749.77 783.08v10.98M737.90 794.07h11.87M761.63 783.08v10.98M749.77 794.07h11.87M773.50 783.08v10.98M761.63 794.07h11.87M785.36 783.08v10.98M773.50 794.07h11.87M797.23 783.08v10.98M785.36 794.07h11.87M809.10 783.08v10.98M797.23 794.07h11.87M820.96 783.08v10.98M809.10 794.07h11.87M832.83 783.08v10.98M820.96 794.07h11.87M844.69 783.08v10.98M832.83 794.07h11.87M856.56 783.08v10.98M844.69 794.07h11.87M868.43 783.08v10.98M856.56 794.07h11.87M880.29 783.08v10.98M868.43 794.07h11.87M892.16 783.08v10.98M880.29 794.07h11.87M904.02 783.08v10.98M892.16 794.07h11.87M915.89 783.08v10.98M904.02 794.07h11.87M927.76 783.08v10.98M915.89 794.07h11.87M939.62 783.08v10.98M927.76 794.07h11.87M951.49 783.08v10.98M939.62 794.07h11.87M963.35 783.08v10.98M951.49 794.07h11.87M963.35 794.07h11.87M749.77 794.07v10.98M737.90 805.05h11.87M761.63 794.07v10.98M749.77 805.05h11.87M773.50 794.07v10.98M761.63 805.05h11.87M785.36 794.07v10.98M773.50 805.05h11.87M797.23 794.07v10.98M785.36 805.05h11.87M809.10 794.07v10.98M797.23 805.05h11.87M820.96 794.07v10.98M809.10 805.05h11.87M832.83 794.07v10.98M820.96 805.05h11.87M844.69 794.07v10.98M832.83 805.05h11.87M856.56 794.07v10.98M844.69 805.05h11.87M868.43 794.07v10.98M856.56 805.05h11.87M880.29 794.07v10.98M868.43 805.05h11.87M892.16 794.07v10.98M880.29 805.05h11.87M904.02 794.07v10.98M892.16 805.05h11.87M915.89 794.07v10.98M904.02 805.05h11.87M927.76 794.07v10.98M915.89 805.05h11.87M939.62 794.07v10.98M927.76 805.05h11.87M951.49 794.07v10.98M939.62 805.05h11.87M963.35 794.07v10.98M951.49 805.05h11.87M963.35 805.05h11.87M749.77 805.05v10.98M737.90 816.04h11.87M761.63 805.05v10.98M749.77 816.04h11.87M773.50 805.05v10.98M761.63 816.04h11.87M785.36 805.05v10.98M773.50 816.04h11.87M797.23 805.05v10.98M785.36 816.04h11.87M809.10 805.05v10.98M797.23 816.04h11.87M820.96 805.05v10.98M809.10 816.04h11.87M832.83 805.05v10.98M820.96 816.04h11.87M844.69 805.05v10.98M832.83 816.04h11.87M856.56 805.05v10.98M844.69 816.04h11.87M868.43 805.05v10.98M856.56 816.04h11.87M880.29 805.05v10.98M868.43 816.04h11.87M892.16 805.05v10.98M880.29 816.04h11.87M904.02 805.05v10.98M892.16 816.04h11.87M915.89 805.05v10.98M904.02 816.04h11.87M927.76 805.05v10.98M915.89 816.04h11.87M939.62 805.05v10.98M927.76 816.04h11.87M951.49 805.05v10.98M939.62 816.04h11.87M963.35 805.05v10.98M951.49 816.04h11.87M963.35 816.04h11.87M749.77 816.04v10.98M737.90 827.02h11.87M761.63 816.04v10.98M749.77 827.02h11.87M773.50 816.04v10.98M761.63 827.02h11.87M785.36 816.04v10.98M773.50 827.02h11.87M797.23 816.04v10.98M785.36 827.02h11.87M809.10 816.04v10.98M797.23 827.02h11.87M820.96 816.04v10.98M809.10 827.02h11.87M832.83 816.04v10.98M820.96 827.02h11.87M844.69 816.04v10.98M832.83 827.02h11.87M856.56 816.04v10.98M844.69 827.02h11.87M868.43 816.04v10.98M880.29 816.04v10.98M868.43 827.02h11.87M892.16 816.04v10.98M880.29 827.02h11.87M904.02 816.04v10.98M892.16 827.02h11.87M915.89 816.04v10.98M904.02 827.02h11.87M927.76 816.04v10.98M915.89 827.02h11.87M939.62 816.04v10.98M927.76 827.02h11.87M951.49 816.04v10.98M939.62 827.02h11.87M963.35 816.04v10.98M951.49 827.02h11.87M963.35 827.02h11.87M749.77 827.02v10.98M761.63 827.02v10.98M773.50 827.02v10.98M761.63 838.00h11.87M785.36 827.02v10.98M773.50 838.00h11.87M797.23 827.02v10.98M785.36 838.00h11.87M809.10 827.02v10.98M797.23 838.00h11.87M820.96 827.02v10.98M809.10 838.00h11.87M832.83 827.02v10.98M820.96 838.00h11.87M844.69 827.02v10.98M832.83 838.00h11.87M844.69 838.00h11.87M880.29 827.02v10.98M868.43 838.00h11.87M892.16 827.02v10.98M880.29 838.00h11.87M904.02 827.02v10.98M892.16 838.00h11.87M915.89 827.02v10.98M904.02 838.00h11.87M927.76 827.02v10.98M915.89 838.00h11.87M939.62 827.02v10.98M927.76 838.00h11.87M951.49 827.02v10.98M939.62 838.00h11.87M963.35 827.02v10.98M951.49 838.00h11.87M975.22 827.02v10.98M963.35 838.00h11.87M975.22 838.00h11.87M773.50 838.01v10.98M761.63 848.99h11.87M785.36 838.01v10.98M773.50 848.99h11.87M797.23 838.01v10.98M785.36 848.99h11.87M809.10 838.01v10.98M797.23 848.99h11.87M820.96 838.01v10.98M809.10 848.99h11.87M832.83 838.01v10.98M820.96 848.99h11.87M844.69 838.01v10.98M832.83 848.99h11.87M856.56 838.01v10.98M844.69 848.99h11.87M868.43 838.01v10.98M856.56 848.99h11.87M880.29 838.01v10.98M868.43 848.99h11.87M892.16 838.01v10.98M880.29 848.99h11.87M904.02 838.01v10.98M892.16 848.99h11.87M915.89 838.01v10.98M904.02 848.99h11.87M927.76 838.01v10.98M915.89 848.99h11.87M939.62 838.01v10.98M927.76 848.99h11.87M951.49 838.01v10.98M939.62 848.99h11.87M963.35 838.01v10.98M951.49 848.99h11.87M975.22 838.01v10.98M773.50 848.99v10.98M785.36 848.99v10.98M773.50 859.98h11.87M797.23 848.99v10.98M785.36 859.98h11.87M809.10 848.99v10.98M797.23 859.98h11.87M820.96 848.99v10.98M809.10 859.98h11.87M832.83 848.99v10.98M820.96 859.98h11.87M844.69 848.99v10.98M832.83 859.98h11.87M856.56 848.99v10.98M844.69 859.98h11.87M868.43 848.99v10.98M856.56 859.98h11.87M880.29 848.99v10.98M868.43 859.98h11.87M892.16 848.99v10.98M880.29 859.98h11.87M904.02 848.99v10.98M892.16 859.98h11.87M915.89 848.99v10.98M904.02 859.98h11.87M927.76 848.99v10.98M915.89 859.98h11.87M939.62 848.99v10.98M927.76 859.98h11.87M951.49 848.99v10.98M939.62 859.98h11.87M951.49 859.98h11.87M785.36 859.98v10.98M773.50 870.96h11.87M797.23 859.98v10.98M785.36 870.96h11.87M809.10 859.98v10.98M797.23 870.96h11.87M820.96 859.98v10.98M809.10 870.96h11.87M832.83 859.98v10.98M820.96 870.96h11.87M844.69 859.98v10.98M832.83 870.96h11.87M856.56 859.98v10.98M844.69 870.96h11.87M868.43 859.98v10.98M856.56 870.96h11.87M880.29 859.98v10.98M868.43 870.96h11.87M892.16 859.98v10.98M880.29 870.96h11.87M904.02 859.98v10.98M892.16 870.96h11.87M915.89 859.98v10.98M904.02 870.96h11.87M927.76 859.98v10.98M915.89 870.96h11.87M939.62 859.98v10.98M927.76 870.96h11.87M951.49 859.98v10.98M939.62 870.96h11.87M785.36 870.96v10.98M773.50 881.95h11.87M797.23 870.96v10.98M785.36 881.95h11.87M809.10 870.96v10.98M797.23 881.95h11.87M820.96 870.96v10.98M809.10 881.95h11.87M832.83 870.96v10.98M820.96 881.95h11.87M844.69 870.96v10.98M832.83 881.95h11.87M856.56 870.96v10.98M844.69 881.95h11.87M868.43 870.96v10.98M856.56 881.95h11.87M880.29 870.96v10.98M868.43 881.95h11.87M892.16 870.96v10.98M880.29 881.95h11.87M904.02 870.96v10.98M892.16 881.95h11.87M915.89 870.96v10.98M904.02 881.95h11.87M927.76 870.96v10.98M915.89 881.95h11.87M939.62 870.96v10.98M927.76 881.95h11.87M785.36 881.95v10.98M773.50 892.93h11.87M797.23 881.95v10.98M785.36 892.93h11.87M809.10 881.95v10.98M797.23 892.93h11.87M820.96 881.95v10.98M809.10 892.93h11.87M832.83 881.95v10.98M820.96 892.93h11.87M844.69 881.95v10.98M832.83 892.93h11.87M856.56 881.95v10.98M844.69 892.93h11.87M868.43 881.95v10.98M856.56 892.93h11.87M880.29 881.95v10.98M868.43 892.93h11.87M892.16 881.95v10.98M880.29 892.93h11.87M904.02 881.95v10.98M892.16 892.93h11.87M915.89 881.95v10.98M904.02 892.93h11.87M927.76 881.95v10.98M915.89 892.93h11.87M785.36 892.93v10.98M797.23 892.93v10.98M785.36 903.92h11.87M809.10 892.93v10.98M797.23 903.92h11.87M820.96 892.93v10.98M809.10 903.92h11.87M832.83 892.93v10.98M820.96 903.92h11.87M844.69 892.93v10.98M832.83 903.92h11.87M856.56 892.93v10.98M844.69 903.92h11.87M868.43 892.93v10.98M856.56 903.92h11.87M880.29 892.93v10.98M868.43 903.92h11.87M892.16 892.93v10.98M880.29 903.92h11.87M904.02 892.93v10.98M892.16 903.92h11.87M915.89 892.93v10.98M904.02 903.92h11.87M797.23 903.91v10.98M785.36 914.90h11.87M809.10 903.91v10.98M797.23 914.90h11.87M820.96 903.91v10.98M809.10 914.90h11.87M832.83 903.91v10.98M820.96 914.90h11.87M844.69 903.91v10.98M832.83 914.90h11.87M856.56 903.91v10.98M844.69 914.90h11.87M868.43 903.91v10.98M856.56 914.90h11.87M880.29 903.91v10.98M868.43 914.90h11.87M892.16 903.91v10.98M880.29 914.90h11.87M904.02 903.91v10.98M892.16 914.90h11.87M904.02 914.90h11.87M797.23 914.90v10.98M809.10 914.90v10.98M797.23 925.89h11.87M820.96 914.90v10.98M809.10 925.89h11.87M832.83 914.90v10.98M820.96 925.89h11.87M844.69 914.90v10.98M832.83 925.89h11.87M856.56 914.90v10.98M844.69 925.89h11.87M868.43 914.90v10.98M856.56 925.89h11.87M880.29 914.90v10.98M868.43 925.89h11.87M892.16 914.90v10.98M880.29 925.89h11.87M904.02 914.90v10.98M892.16 925.89h11.87M809.10 925.88v10.98M820.96 925.88v10.98M809.10 936.87h11.87M832.83 925.88v10.98M820.96 936.87h11.87M844.69 925.88v10.98M832.83 936.87h11.87M856.56 925.88v10.98M844.69 936.87h11.87M868.43 925.88v10.98M856.56 936.87h11.87M880.29 925.88v10.98M892.16 925.88v10.98M820.96 936.87v10.98M832.83 936.87v10.98M844.69 936.87v10.98M856.56 936.87v10.98" stroke="#ffffff" stroke-opacity="0.16" stroke-width="0.7" fill="none"/>
<rect x="678.4" y="662.5" width="368.50" height="336.50" fill="none" stroke="#505050" stroke-width="2"/>
<path d="M739.82 662.5v5M739.82 999.0v-5M678.4 718.58h5M1046.9 718.58h-5M801.23 662.5v5M801.23 999.0v-5M678.4 774.67h5M1046.9 774.67h-5M862.65 662.5v5M862.65 999.0v-5M678.4 830.75h5M1046.9 830.75h-5M924.07 662.5v5M924.07 999.0v-5M678.4 886.83h5M1046.9 886.83h-5M985.48 662.5v5M985.48 999.0v-5M678.4 942.92h5M1046.9 942.92h-5" stroke="#505050" stroke-width="1.6" fill="none"/>
</g>
<g id="cbarg" transform="translate(588.1 674) skewX(0.62)">
<rect x="1.1" y="1.1" width="28.2" height="292.6" fill="url(#cbar)" stroke="#4c4c50" stroke-width="2.2"/>
<path d="M2.2 38.90h4.4M2.2 75.20h4.4M2.2 111.50h4.4M2.2 147.80h4.4M2.2 184.10h4.4M2.2 220.40h4.4M2.2 256.70h4.4" stroke="#4a4a50" stroke-width="1.5"/>
</g>
<g font-family="'Liberation Sans', Arial, sans-serif" fill="#000">
<text transform="translate(95.33 678.60) scale(0.9788 1.04)" font-size="43.4">0.2</text>
<text transform="translate(130.35 846.50) scale(0.9667 1.04)" font-size="43.4">0</text>
<text transform="translate(78.77 1018.80) scale(1.0128 1.04)" font-size="43.4">-0.2</text>
<text transform="translate(132.19 1049.60) scale(1.0071 1.04)" font-size="43.4">-0.2</text>
<text transform="translate(338.33 1049.60) scale(0.9810 1.04)" font-size="43.4">0</text>
<text transform="translate(493.91 1049.60) scale(0.9947 1.04)" font-size="43.4">0.2</text>
<text transform="translate(568.28 665.70) scale(1.0814 1.04)" font-size="43.4">0.2</text>
<text transform="translate(554.21 837.40) scale(1.0571 1.04)" font-size="43.4">0</text>
<text transform="translate(558.09 1009.40) scale(1.1050 1.04)" font-size="43.4">-0.2</text>
<text transform="translate(1056.71 675.10) scale(0.9950 1.04)" font-size="43.4">6</text>
<text transform="translate(1057.16 844.40) scale(0.9619 1.04)" font-size="43.4">0</text>
<text transform="translate(1056.17 1015.50) scale(1.0145 1.04)" font-size="43.4">-6</text>
<text transform="translate(660.85 1046.80) scale(1.0261 1.04)" font-size="43.4">-6</text>
<text transform="translate(854.91 1046.80) scale(0.9905 1.04)" font-size="43.4">0</text>
<text transform="translate(1027.00 1046.60) scale(1.0500 1.04)" font-size="43.4">6</text>
<text transform="translate(163.30 708.00) scale(1.0484 1.04)" font-size="43">c)</text>
<text transform="translate(686.29 701.20) scale(1.0030 1.04)" font-size="43">d)</text>
<text transform="translate(208.84 1103.00) scale(0.9856 1.04)" font-size="34.2">Divergence (mrad)</text>
<text transform="translate(725.84 1100.60) scale(0.9860 1.04)" font-size="34.2">Divergence (mrad)</text>
<text transform="translate(63.00 971.38) rotate(-90) scale(0.9934 1.04)" font-size="33.6">Divergence (mrad)</text>
<text transform="translate(1160.60 972.08) rotate(-90) scale(0.9920 1.04)" font-size="33.6">Divergence (mrad)</text>
</g>
</svg>
</body></html>
